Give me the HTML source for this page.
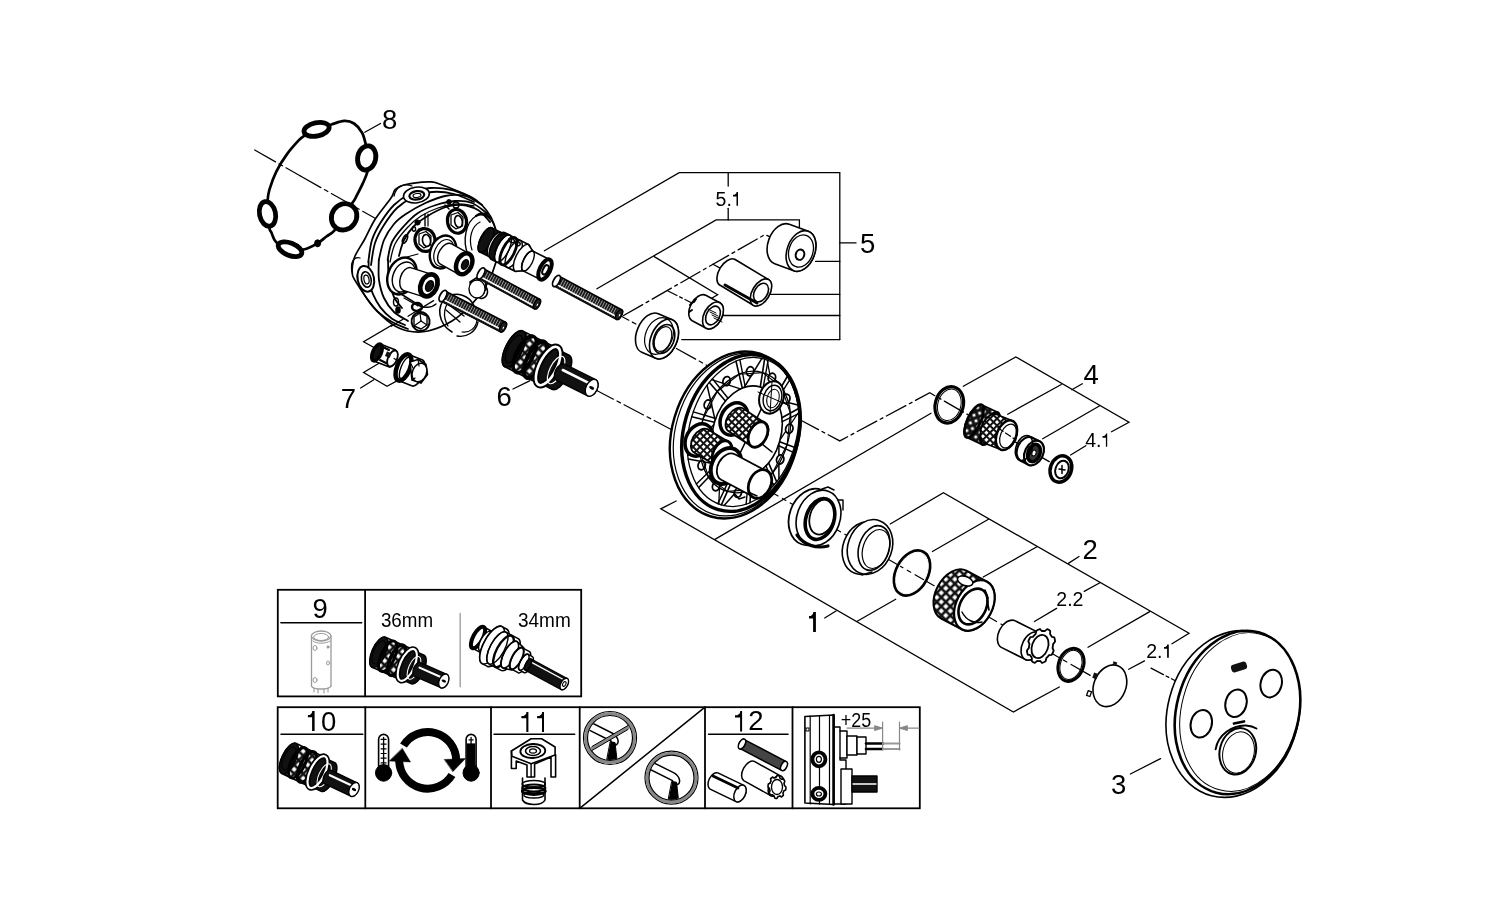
<!DOCTYPE html>
<html><head><meta charset="utf-8"><style>
html,body{margin:0;padding:0;background:#fff;width:1500px;height:916px;overflow:hidden}
svg{display:block;font-family:"Liberation Sans",sans-serif}
text{will-change:transform}
</style></head><body>
<svg width="1500" height="916" viewBox="0 0 1500 916" stroke-linecap="round">
<rect x="277.8" y="589.8" width="303.4" height="106.6" fill="none" stroke="#000" stroke-width="1.8"/>
<line x1="365.1" y1="589.8" x2="365.1" y2="696.4" stroke="#000" stroke-width="1.8" />
<line x1="280.9" y1="622.7" x2="361.7" y2="622.7" stroke="#000" stroke-width="1.5" />
<line x1="460.2" y1="613.5" x2="460.2" y2="686.7" stroke="#aaa" stroke-width="1.6" />
<rect x="277.7" y="707.2" width="642.1" height="101.1" fill="none" stroke="#000" stroke-width="1.8"/>
<line x1="365.3" y1="707.2" x2="365.3" y2="808.3" stroke="#000" stroke-width="1.8" />
<line x1="491.0" y1="707.2" x2="491.0" y2="808.3" stroke="#000" stroke-width="1.8" />
<line x1="579.7" y1="707.2" x2="579.7" y2="808.3" stroke="#000" stroke-width="1.8" />
<line x1="705.0" y1="707.2" x2="705.0" y2="808.3" stroke="#000" stroke-width="1.8" />
<line x1="792.5" y1="707.2" x2="792.5" y2="808.3" stroke="#000" stroke-width="1.8" />
<line x1="579.7" y1="808.3" x2="705.0" y2="707.2" stroke="#000" stroke-width="1.5" />
<line x1="281.0" y1="734.2" x2="362.8" y2="734.2" stroke="#000" stroke-width="1.5" />
<line x1="494.0" y1="734.2" x2="574.7" y2="734.2" stroke="#000" stroke-width="1.5" />
<line x1="708.5" y1="734.3" x2="788.0" y2="734.3" stroke="#000" stroke-width="1.5" />
<line x1="364.8" y1="132.3" x2="380.5" y2="123.5" stroke="#000" stroke-width="1.3" />
<polyline points="544.4,250.7 679.2,172.6 839.8,172.6 839.8,339.6" stroke="#000" stroke-width="1.3" fill="none" />
<line x1="728.2" y1="172.6" x2="728.2" y2="186.0" stroke="#000" stroke-width="1.3" />
<line x1="728.2" y1="208.3" x2="728.2" y2="219.9" stroke="#000" stroke-width="1.3" />
<polyline points="596.9,288.7 716.1,219.9 799.4,219.9 799.4,229.0" stroke="#000" stroke-width="1.3" fill="none" />
<line x1="815.6" y1="261.4" x2="839.8" y2="261.4" stroke="#000" stroke-width="1.3" />
<line x1="770.4" y1="294.3" x2="839.8" y2="294.3" stroke="#000" stroke-width="1.3" />
<line x1="723.0" y1="315.5" x2="839.8" y2="315.5" stroke="#000" stroke-width="1.3" />
<line x1="681.7" y1="339.6" x2="839.8" y2="339.6" stroke="#000" stroke-width="1.3" />
<line x1="839.8" y1="242.9" x2="856.0" y2="242.9" stroke="#000" stroke-width="1.3" />
<polyline points="654.2,256.6 717.6,294.8 710.8,298.7" stroke="#000" stroke-width="1.3" fill="none" />
<polyline points="623.6,315.5 765.0,234.5 773.4,238.3" stroke="#000" stroke-width="1.3" fill="none" stroke-dasharray="22 4 3 4"/>
<line x1="668.0" y1="291.0" x2="690.9" y2="302.5" stroke="#000" stroke-width="1.3" stroke-dasharray="10 3 3 3"/>
<line x1="713.0" y1="264.3" x2="721.5" y2="268.9" stroke="#000" stroke-width="1.3" />
<polyline points="433.6,300.6 363.6,341.8 374.4,347.8" stroke="#000" stroke-width="1.3" fill="none" />
<polyline points="378.6,363.5 363.6,372.5 387.0,386.3 399.7,379.4" stroke="#000" stroke-width="1.3" fill="none" />
<line x1="373.8" y1="379.7" x2="360.6" y2="388.0" stroke="#000" stroke-width="1.3" />
<line x1="513.0" y1="389.0" x2="529.6" y2="380.8" stroke="#000" stroke-width="1.3" />
<polyline points="963.3,386.2 1015.8,357.0 1129.0,422.3 1111.5,431.7" stroke="#000" stroke-width="1.3" fill="none" />
<line x1="1061.3" y1="384.5" x2="1007.7" y2="414.2" stroke="#000" stroke-width="1.3" />
<line x1="1071.8" y1="389.7" x2="1082.3" y2="383.8" stroke="#000" stroke-width="1.3" />
<line x1="1099.3" y1="406.0" x2="1042.7" y2="438.7" stroke="#000" stroke-width="1.3" />
<line x1="1085.8" y1="445.7" x2="1070.6" y2="455.0" stroke="#000" stroke-width="1.3" />
<polyline points="799.0,419.3 839.8,440.9 929.8,392.8 1052.0,463.2" stroke="#000" stroke-width="1.3" fill="none" stroke-dasharray="22 4 3 4"/>
<line x1="714.9" y1="539.4" x2="931.0" y2="413.3" stroke="#000" stroke-width="1.3" />
<polyline points="676.2,501.0 660.8,508.8 1013.4,712.0 1059.3,687.0" stroke="#000" stroke-width="1.3" fill="none" />
<line x1="857.2" y1="621.2" x2="895.7" y2="599.2" stroke="#000" stroke-width="1.3" />
<line x1="824.7" y1="618.0" x2="836.0" y2="611.0" stroke="#000" stroke-width="1.3" />
<polyline points="890.2,524.0 943.4,492.8 1189.0,633.3 1172.0,643.8" stroke="#000" stroke-width="1.3" fill="none" />
<line x1="988.5" y1="519.3" x2="932.4" y2="551.5" stroke="#000" stroke-width="1.3" />
<line x1="1037.0" y1="546.8" x2="983.2" y2="577.0" stroke="#000" stroke-width="1.3" />
<line x1="1068.4" y1="563.4" x2="1079.0" y2="556.5" stroke="#000" stroke-width="1.3" />
<polyline points="1099.9,582.8 1084.2,591.4" stroke="#000" stroke-width="1.3" fill="none" />
<line x1="1056.6" y1="608.4" x2="1034.4" y2="621.5" stroke="#000" stroke-width="1.3" />
<line x1="1149.7" y1="611.6" x2="1088.0" y2="647.2" stroke="#000" stroke-width="1.3" />
<line x1="1144.5" y1="660.9" x2="1128.7" y2="669.3" stroke="#000" stroke-width="1.3" />
<line x1="1151.0" y1="668.2" x2="1182.5" y2="684.5" stroke="#000" stroke-width="1.3" stroke-dasharray="14 3 3 3"/>
<line x1="1130.4" y1="774.0" x2="1160.5" y2="758.6" stroke="#000" stroke-width="1.3" />
<line x1="759.0" y1="485.0" x2="1100.0" y2="681.0" stroke="#000" stroke-width="1.2" stroke-dasharray="22 5 4 5"/>
<line x1="254.7" y1="150.0" x2="300.0" y2="175.8" stroke="#000" stroke-width="1.2" stroke-dasharray="24 4 4 4"/>
<line x1="300.0" y1="175.8" x2="376.0" y2="218.8" stroke="#000" stroke-width="1.2" stroke-dasharray="24 4 4 4"/>
<line x1="593.9" y1="389.0" x2="680.0" y2="434.0" stroke="#000" stroke-width="1.2" stroke-dasharray="22 4 4 4"/>
<line x1="676.4" y1="348.4" x2="717.3" y2="371.2" stroke="#000" stroke-width="1.2" stroke-dasharray="22 4 4 4"/>
<line x1="620.0" y1="315.5" x2="646.0" y2="329.5" stroke="#000" stroke-width="1.2" stroke-dasharray="10 4 4 4"/>
<path d="M331.4,124.5 C336.0,123.1 340.3,121.1 344.1,120.9 C347.9,120.7 351.1,121.6 354.0,123.5 C356.9,125.4 359.9,128.9 361.8,132.3 C363.8,135.7 364.7,139.8 365.7,144.1 C366.7,148.4 367.4,153.6 367.7,158.0 C368.0,162.4 368.5,166.4 367.7,170.6 C366.9,174.8 364.8,179.0 362.8,183.4 C360.8,187.8 357.5,194.1 355.9,197.2 C354.3,200.3 355.0,199.0 353.0,202.1 C351.0,205.2 347.1,211.2 344.0,216.0 C340.9,220.8 337.2,227.2 334.3,230.6 C331.4,234.0 329.2,234.4 326.4,236.5 C323.6,238.6 321.2,241.2 317.6,243.3 C314.0,245.4 309.4,248.2 304.8,249.2 C300.2,250.1 294.8,250.2 290.0,249.0 C285.2,247.8 279.4,245.1 276.3,242.3 C273.2,239.6 272.5,234.8 271.4,232.5 C270.3,230.2 270.1,231.8 269.5,228.6 C268.9,225.3 267.8,217.6 267.5,213.0 C267.2,208.4 267.2,205.0 267.5,201.1 C267.8,197.2 268.0,194.2 269.5,189.3 C271.0,184.4 273.4,177.5 276.3,171.6 C279.2,165.7 283.4,159.1 287.2,153.9 C291.0,148.7 296.0,143.3 298.9,140.2 C301.8,137.1 301.9,137.1 304.8,135.3 C307.8,133.5 312.2,131.2 316.6,129.4 C321.0,127.6 326.8,125.9 331.4,124.5 Z" stroke="#000" stroke-width="2.7" fill="none" stroke-linejoin="round" stroke-linecap="round" />
<ellipse cx="316.6" cy="129.4" rx="12.8" ry="6.6" transform="rotate(-12 316.6 129.4)" stroke="#000" stroke-width="4.8" fill="#fff" />
<ellipse cx="366.7" cy="157.9" rx="9.0" ry="12.2" transform="rotate(12 366.7 157.9)" stroke="#000" stroke-width="4.8" fill="#fff" />
<ellipse cx="344.1" cy="216.8" rx="12.3" ry="13.6" transform="rotate(35 344.1 216.8)" stroke="#000" stroke-width="4.8" fill="#fff" />
<ellipse cx="267.5" cy="213.9" rx="8.0" ry="12.5" transform="rotate(-12 267.5 213.9)" stroke="#000" stroke-width="4.8" fill="#fff" />
<ellipse cx="290.0" cy="249.2" rx="12.5" ry="6.2" transform="rotate(22 290.0 249.2)" stroke="#000" stroke-width="4.8" fill="#fff" />
<ellipse cx="317.6" cy="243.3" rx="3.0" ry="3.5" transform="rotate(0 317.6 243.3)" stroke="#000" stroke-width="1" fill="#000" />
<path d="M355.0,256.0 C357.1,251.5 361.4,245.2 364.8,239.0 C368.2,232.8 370.9,225.8 375.3,219.0 C379.7,212.2 387.6,202.9 391.0,198.0 C394.4,193.1 392.9,191.7 395.4,189.4 C397.9,187.2 400.4,185.8 405.9,184.5 C411.4,183.2 423.4,182.1 428.6,181.9 C433.8,181.7 432.1,181.5 437.3,183.2 C442.5,184.9 453.6,189.2 460.0,192.0 C466.4,194.8 471.5,196.8 476.0,200.0 C480.5,203.2 484.0,207.0 487.0,211.0 C490.0,215.0 492.2,218.8 494.0,224.0 C495.8,229.2 497.7,235.7 498.0,242.0 C498.3,248.3 497.8,255.0 496.0,262.0 C494.2,269.0 491.0,277.0 487.0,284.0 C483.0,291.0 477.8,297.8 472.0,304.0 C466.2,310.2 459.3,316.5 452.0,321.0 C444.7,325.5 435.4,329.3 428.0,331.0 C420.6,332.7 413.8,332.3 407.6,331.0 C401.4,329.7 396.8,327.6 390.9,323.4 C385.0,319.2 377.4,311.6 372.3,305.7 C367.2,299.8 363.2,292.9 360.0,288.0 C356.8,283.1 354.1,279.7 352.8,276.0 C351.6,272.3 352.1,269.3 352.5,266.0 C352.9,262.7 352.9,260.5 355.0,256.0 Z" stroke="#000" stroke-width="1.7" fill="#fff" stroke-linejoin="round" stroke-linecap="round" />
<path d="M368.3,262.0 C368.9,258.3 369.9,246.7 372.0,240.0 C374.1,233.3 377.3,227.8 381.0,222.0 C384.7,216.2 389.2,209.7 394.0,205.0 C398.8,200.3 404.0,196.8 410.0,194.0 C416.0,191.2 423.0,188.7 430.0,188.0 C437.0,187.3 445.3,188.5 452.0,190.0 C458.7,191.5 467.0,195.8 470.0,197.0 " stroke="#000" stroke-width="1.8" fill="none" stroke-linejoin="round" stroke-linecap="round" />
<path d="M371.0,265.0 C371.7,261.3 372.8,249.7 375.0,243.0 C377.2,236.3 380.3,230.8 384.0,225.0 C387.7,219.2 392.3,212.5 397.0,208.0 C401.7,203.5 406.2,200.7 412.0,198.0 C417.8,195.3 425.0,192.7 432.0,192.0 C439.0,191.3 447.0,192.3 454.0,194.0 C461.0,195.7 470.7,200.7 474.0,202.0 " stroke="#000" stroke-width="1.8" fill="none" stroke-linejoin="round" stroke-linecap="round" />
<path d="M378.8,260.0 C379.7,256.7 381.5,246.0 384.0,240.0 C386.5,234.0 390.4,228.3 394.0,224.0 C397.6,219.7 400.7,217.4 405.9,214.0 C411.1,210.6 418.5,206.3 425.0,203.3 C431.5,200.3 438.3,197.2 445.0,196.0 C451.7,194.8 458.8,194.5 465.0,196.0 C471.2,197.5 479.2,203.5 482.0,205.0 " stroke="#000" stroke-width="1.8" fill="none" stroke-linejoin="round" stroke-linecap="round" />
<path d="M387.6,260.0 C388.3,257.0 389.3,247.7 392.0,242.0 C394.7,236.3 399.7,230.8 404.0,226.0 C408.3,221.2 412.7,216.5 418.0,213.0 C423.3,209.5 429.8,207.0 436.0,205.0 C442.2,203.0 449.0,201.3 455.0,201.0 C461.0,200.7 466.5,200.8 472.0,203.0 C477.5,205.2 485.3,212.2 488.0,214.0 " stroke="#000" stroke-width="1.8" fill="none" stroke-linejoin="round" stroke-linecap="round" />
<path d="M390.0,262.0 C390.8,259.0 392.2,249.7 395.0,244.0 C397.8,238.3 402.7,232.7 407.0,228.0 C411.3,223.3 415.8,219.3 421.0,216.0 C426.2,212.7 432.0,210.0 438.0,208.0 C444.0,206.0 451.0,204.3 457.0,204.0 C463.0,203.7 471.2,205.7 474.0,206.0 " stroke="#000" stroke-width="1.3" fill="none" stroke-linejoin="round" stroke-linecap="round" />
<path d="M398.9,256.0 C399.8,253.3 401.5,245.0 404.0,240.0 C406.5,235.0 410.2,229.9 414.0,226.0 C417.8,222.1 421.6,219.6 426.9,216.4 C432.2,213.2 440.1,208.9 446.0,207.0 C451.9,205.1 456.7,204.5 462.0,205.0 C467.3,205.5 473.3,207.2 478.0,210.0 C482.7,212.8 488.0,220.0 490.0,222.0 " stroke="#000" stroke-width="1.8" fill="none" stroke-linejoin="round" stroke-linecap="round" />
<path d="M360.0,288.0 C361.3,290.0 365.0,296.0 368.0,300.0 C371.0,304.0 374.0,308.3 378.0,312.0 C382.0,315.7 387.0,319.2 392.0,322.0 C397.0,324.8 405.3,327.8 408.0,329.0 " stroke="#000" stroke-width="1.8" fill="none" stroke-linejoin="round" stroke-linecap="round" />
<path d="M368.6,262.0 C368.7,265.3 368.2,276.6 369.0,282.0 C369.8,287.4 371.3,290.3 373.2,294.6 C375.1,298.9 377.5,303.6 380.6,307.6 C383.7,311.6 387.9,315.8 392.0,318.7 C396.1,321.6 402.8,323.9 405.0,325.0 " stroke="#000" stroke-width="1.8" fill="none" stroke-linejoin="round" stroke-linecap="round" />
<path d="M378.8,260.0 C378.8,263.3 378.1,273.7 379.0,280.0 C379.9,286.3 381.5,292.7 384.0,298.0 C386.5,303.3 390.0,308.2 394.0,312.0 C398.0,315.8 405.7,319.5 408.0,321.0 " stroke="#000" stroke-width="1.8" fill="none" stroke-linejoin="round" stroke-linecap="round" />
<path d="M388.0,260.0 C388.2,263.3 388.0,273.8 389.0,280.0 C390.0,286.2 391.8,292.3 394.0,297.0 C396.2,301.7 400.7,306.2 402.0,308.0 " stroke="#000" stroke-width="1.8" fill="none" stroke-linejoin="round" stroke-linecap="round" />
<path d="M394,196 C396,186 404,183 412,186" stroke="#000" stroke-width="1.3" fill="none" stroke-linejoin="round" stroke-linecap="round" />
<ellipse cx="416.4" cy="195.0" rx="13.0" ry="7.8" transform="rotate(-8 416.4 195.0)" stroke="#000" stroke-width="1.6" fill="#fff" />
<ellipse cx="416.8" cy="195.3" rx="7.5" ry="4.2" transform="rotate(-8 416.8 195.3)" stroke="#000" stroke-width="2.2" fill="none" />
<ellipse cx="417.0" cy="195.5" rx="4.0" ry="2.0" transform="rotate(-8 417.0 195.5)" stroke="#000" stroke-width="1.2" fill="none" />
<path d="M352,272 C350,262 354,256 360,258" stroke="#000" stroke-width="1.3" fill="none" stroke-linejoin="round" stroke-linecap="round" />
<ellipse cx="365.8" cy="278.8" rx="8.2" ry="13.0" transform="rotate(-12 365.8 278.8)" stroke="#000" stroke-width="2" fill="#fff" />
<ellipse cx="366.3" cy="279.5" rx="4.8" ry="7.8" transform="rotate(-12 366.3 279.5)" stroke="#000" stroke-width="1.6" fill="none" />
<ellipse cx="366.5" cy="279.5" rx="2.5" ry="4.5" transform="rotate(-12 366.5 279.5)" stroke="#000" stroke-width="1.2" fill="none" />
<ellipse cx="417.5" cy="222.5" rx="2.6" ry="2.6" transform="rotate(0 417.5 222.5)" stroke="#000" stroke-width="1" fill="#000" />
<ellipse cx="414.0" cy="229.0" rx="1.6" ry="2.2" transform="rotate(0 414.0 229.0)" stroke="#000" stroke-width="1.4" fill="none" />
<ellipse cx="405.0" cy="239.0" rx="2.0" ry="4.5" transform="rotate(25 405.0 239.0)" stroke="#000" stroke-width="1.5" fill="none" />
<ellipse cx="449.0" cy="202.0" rx="2.4" ry="2.4" transform="rotate(0 449.0 202.0)" stroke="#000" stroke-width="1" fill="#000" />
<line x1="445.0" y1="205.0" x2="449.0" y2="209.0" stroke="#000" stroke-width="1.5" />
<ellipse cx="456.0" cy="205.0" rx="3.0" ry="3.0" transform="rotate(0 456.0 205.0)" stroke="#000" stroke-width="1.4" fill="none" />
<ellipse cx="396.0" cy="302.0" rx="2.5" ry="4.0" transform="rotate(0 396.0 302.0)" stroke="#000" stroke-width="1.4" fill="none" />
<ellipse cx="398.0" cy="310.0" rx="2.0" ry="3.0" transform="rotate(0 398.0 310.0)" stroke="#000" stroke-width="1.6" fill="#000" />
<line x1="419.0" y1="229.0" x2="432.0" y2="231.0" stroke="#000" stroke-width="1.4" />
<line x1="425.0" y1="214.0" x2="425.0" y2="226.0" stroke="#000" stroke-width="1.4" />
<line x1="428.0" y1="214.0" x2="428.0" y2="226.0" stroke="#000" stroke-width="1.2" />
<line x1="430.0" y1="240.0" x2="445.0" y2="236.0" stroke="#000" stroke-width="1.2" />
<line x1="407.0" y1="257.0" x2="418.0" y2="254.0" stroke="#000" stroke-width="1.2" />
<ellipse cx="425.0" cy="240.0" rx="10.0" ry="11.5" transform="rotate(-10 425.0 240.0)" stroke="#000" stroke-width="3.2" fill="#fff" />
<polygon points="419.0,234.0 426.0,231.5 431.0,236.0 430.5,245.0 424.0,248.0 419.0,244.0" stroke="#000" stroke-width="1.3" fill="#fff" stroke-linejoin="round" />
<ellipse cx="426.5" cy="240.5" rx="4.0" ry="6.0" transform="rotate(-10 426.5 240.5)" stroke="#000" stroke-width="1.6" fill="none" />
<ellipse cx="457.0" cy="221.3" rx="9.5" ry="12.0" transform="rotate(-10 457.0 221.3)" stroke="#000" stroke-width="3.2" fill="#fff" />
<polygon points="451.0,215.0 458.0,212.5 463.0,217.0 462.5,226.0 456.0,229.0 451.0,225.0" stroke="#000" stroke-width="1.3" fill="#fff" stroke-linejoin="round" />
<ellipse cx="458.5" cy="221.5" rx="3.8" ry="6.0" transform="rotate(-10 458.5 221.5)" stroke="#000" stroke-width="1.6" fill="none" />
<path d="M468,255 C462,240 466,222 476,216 C484,212 492,218 495,228" stroke="#000" stroke-width="1.4" fill="none" stroke-linejoin="round" stroke-linecap="round" />
<path d="M472,250 C468,238 472,226 480,222" stroke="#000" stroke-width="1.2" fill="none" stroke-linejoin="round" stroke-linecap="round" />
<path d="M476,216 C480,212 486,213 490,218" stroke="#000" stroke-width="2.2" fill="none" stroke-linejoin="round" stroke-linecap="round" />
<ellipse cx="443.0" cy="252.0" rx="12.5" ry="17.0" transform="rotate(22 443.0 252.0)" stroke="#000" stroke-width="2.4" fill="#fff" />
<ellipse cx="444.0" cy="253.0" rx="9.5" ry="14.0" transform="rotate(22 444.0 253.0)" stroke="#000" stroke-width="1.2" fill="none" />
<path d="M440.4,264.1 L458.4,274.1 A7.1,11.5 29.1 0 0 469.6,253.9 L451.6,243.9 A7.1,11.5 29.1 0 0 440.4,264.1 Z" stroke="#000" stroke-width="1.4" fill="#fff" stroke-linejoin="round" stroke-linecap="round" />
<ellipse cx="464.2" cy="263.8" rx="7.5" ry="11.0" transform="rotate(25 464.2 263.8)" stroke="#000" stroke-width="4.5" fill="#fff" />
<ellipse cx="465.0" cy="264.5" rx="3.0" ry="5.0" transform="rotate(25 465.0 264.5)" stroke="#000" stroke-width="1.6" fill="#111" />
<ellipse cx="402.0" cy="276.0" rx="14.0" ry="19.0" transform="rotate(22 402.0 276.0)" stroke="#000" stroke-width="2.4" fill="#fff" />
<ellipse cx="404.0" cy="277.0" rx="11.0" ry="15.5" transform="rotate(22 404.0 277.0)" stroke="#000" stroke-width="1.4" fill="none" />
<path d="M403.4,290.4 L425.4,297.4 A7.4,12.0 17.7 0 0 432.6,274.6 L410.6,267.6 A7.4,12.0 17.7 0 0 403.4,290.4 Z" stroke="#000" stroke-width="1.4" fill="#fff" stroke-linejoin="round" stroke-linecap="round" />
<ellipse cx="428.9" cy="285.3" rx="8.0" ry="11.5" transform="rotate(25 428.9 285.3)" stroke="#000" stroke-width="4.8" fill="#fff" />
<ellipse cx="429.5" cy="286.0" rx="3.5" ry="5.5" transform="rotate(25 429.5 286.0)" stroke="#000" stroke-width="1.6" fill="#111" />
<path d="M398,292 L420,306 C424,308 432,308 436,304" stroke="#000" stroke-width="1.5" fill="none" stroke-linejoin="round" stroke-linecap="round" />
<path d="M404,298 L418,306" stroke="#000" stroke-width="1.2" fill="none" stroke-linejoin="round" stroke-linecap="round" />
<ellipse cx="417.0" cy="307.0" rx="5.0" ry="4.0" transform="rotate(0 417.0 307.0)" stroke="#000" stroke-width="2.5" fill="none" />
<ellipse cx="420.6" cy="321.5" rx="9.0" ry="9.5" transform="rotate(-10 420.6 321.5)" stroke="#000" stroke-width="2" fill="#fff" />
<polygon points="414.0,317.0 420.0,313.0 427.0,316.0 427.0,325.0 421.0,329.0 414.0,326.0" stroke="#000" stroke-width="1.4" fill="#fff" stroke-linejoin="round" />
<line x1="420.0" y1="313.0" x2="421.0" y2="321.0" stroke="#000" stroke-width="1.2" />
<line x1="421.0" y1="321.0" x2="427.0" y2="325.0" stroke="#000" stroke-width="1.2" />
<line x1="421.0" y1="321.0" x2="414.0" y2="326.0" stroke="#000" stroke-width="1.2" />
<path d="M452,332 C438,324 436,306 446,298 C456,290 470,296 474,306" stroke="#000" stroke-width="1.6" fill="none" stroke-linejoin="round" stroke-linecap="round" />
<path d="M448,326 C442,316 444,304 452,300" stroke="#000" stroke-width="1.3" fill="none" stroke-linejoin="round" stroke-linecap="round" />
<path d="M457,336 C466,338 476,332 478,322" stroke="#000" stroke-width="1.4" fill="none" stroke-linejoin="round" stroke-linecap="round" />
<path d="M462,332 C470,333 476,328 477,320" stroke="#000" stroke-width="1.2" fill="none" stroke-linejoin="round" stroke-linecap="round" />
<line x1="446.0" y1="310.0" x2="460.0" y2="322.0" stroke="#000" stroke-width="1.3" />
<line x1="449.0" y1="305.0" x2="464.0" y2="316.0" stroke="#000" stroke-width="1.3" />
<polygon points="470.0,282.0 477.0,277.5 485.0,280.0 486.5,289.0 480.0,295.0 471.5,292.0" stroke="#000" stroke-width="1.6" fill="#fff" stroke-linejoin="round" />
<line x1="477.0" y1="277.5" x2="478.0" y2="285.0" stroke="#000" stroke-width="1.2" />
<line x1="478.0" y1="285.0" x2="486.5" y2="289.0" stroke="#000" stroke-width="1.2" />
<line x1="478.0" y1="285.0" x2="471.5" y2="292.0" stroke="#000" stroke-width="1.2" />
<ellipse cx="482.0" cy="292.0" rx="5.5" ry="6.5" transform="rotate(10 482.0 292.0)" stroke="#000" stroke-width="1.6" fill="none" />
<line x1="391.3" y1="326.2" x2="403.0" y2="319.2" stroke="#000" stroke-width="1.3" />
<line x1="408.0" y1="316.2" x2="433.6" y2="300.6" stroke="#000" stroke-width="1.3" />
<path d="M480.0,252.1 L488.9,256.5 A5.7,13.5 26.6 0 0 501.0,232.4 L492.0,227.9 A5.7,13.5 26.6 0 0 480.0,252.1 Z" stroke="#000" stroke-width="1.6" fill="#111" stroke-linejoin="round" stroke-linecap="round" />
<ellipse cx="486.0" cy="240.0" rx="5.5" ry="13.5" transform="rotate(26.6 486.0 240.0)" stroke="#000" stroke-width="1.6" fill="#111" />
<path d="M488.9,256.5 L491.6,257.9 A5.7,13.5 26.6 0 0 503.7,233.7 L501.0,232.4 A5.7,13.5 26.6 0 0 488.9,256.5 Z" stroke="#000" stroke-width="1.4" fill="#fff" stroke-linejoin="round" stroke-linecap="round" />
<path d="M490.9,259.2 L496.3,261.9 A6.3,15.0 26.6 0 0 509.7,235.1 L504.3,232.4 A6.3,15.0 26.6 0 0 490.9,259.2 Z" stroke="#000" stroke-width="1.6" fill="#111" stroke-linejoin="round" stroke-linecap="round" />
<path d="M496.3,261.9 L515.1,271.3 A6.3,15.0 26.6 0 0 528.5,244.5 L509.7,235.1 A6.3,15.0 26.6 0 0 496.3,261.9 Z" stroke="#000" stroke-width="1.6" fill="#fff" stroke-linejoin="round" stroke-linecap="round" />
<ellipse cx="503.0" cy="248.5" rx="6.0" ry="15.0" transform="rotate(26.6 503.0 248.5)" stroke="#000" stroke-width="1.4" fill="none" />
<ellipse cx="508.4" cy="251.2" rx="6.0" ry="15.0" transform="rotate(26.6 508.4 251.2)" stroke="#000" stroke-width="2.8" fill="none" />
<ellipse cx="513.7" cy="253.9" rx="6.0" ry="15.0" transform="rotate(26.6 513.7 253.9)" stroke="#000" stroke-width="1.4" fill="none" />
<ellipse cx="511.5" cy="240.4" rx="3.0" ry="2.0" transform="rotate(26.6 511.5 240.4)" stroke="#000" stroke-width="1.5" fill="none" />
<ellipse cx="517.8" cy="243.6" rx="2.5" ry="1.8" transform="rotate(26.6 517.8 243.6)" stroke="#000" stroke-width="1.5" fill="none" />
<path d="M515.1,271.3 L523.1,270.9 A4.6,11.0 26.6 0 0 533.0,251.2 L528.5,244.5 A6.3,15.0 26.6 0 0 515.1,271.3 Z" stroke="#000" stroke-width="1.6" fill="#fff" stroke-linejoin="round" stroke-linecap="round" />
<path d="M523.1,270.9 L540.1,279.4 A4.6,11.0 26.6 0 0 550.0,259.7 L533.0,251.2 A4.6,11.0 26.6 0 0 523.1,270.9 Z" stroke="#000" stroke-width="1.6" fill="#fff" stroke-linejoin="round" stroke-linecap="round" />
<ellipse cx="528.0" cy="261.0" rx="4.5" ry="11.0" transform="rotate(26.6 528.0 261.0)" stroke="#000" stroke-width="1.4" fill="none" />
<ellipse cx="545.0" cy="269.5" rx="5.2" ry="11.0" transform="rotate(26.6 545.0 269.5)" stroke="#000" stroke-width="4" fill="#fff" />
<ellipse cx="545.5" cy="269.8" rx="2.5" ry="5.0" transform="rotate(26.6 545.5 269.8)" stroke="#000" stroke-width="2" fill="none" />
<path d="M500,236 C504,232 510,234 512,238" stroke="#000" stroke-width="1.2" fill="none" stroke-linejoin="round" stroke-linecap="round" />
<path d="M478.4,278.2 L534.4,308.7 A2.4,5.4 28.6 0 0 539.6,299.3 L483.6,268.8 A2.4,5.4 28.6 0 0 478.4,278.2 Z" stroke="#000" stroke-width="1.6" fill="url(#spr)" stroke-linejoin="round" stroke-linecap="round" />
<line x1="481.3" y1="277.1" x2="533.8" y2="305.7" stroke="#fff" stroke-width="1.6" />
<line x1="478.5" y1="278.0" x2="534.5" y2="308.5" stroke="#111" stroke-width="1.4" />
<ellipse cx="537.0" cy="304.0" rx="2.7" ry="5.4" transform="rotate(28.57460499009913 537.0 304.0)" stroke="#000" stroke-width="1.6" fill="#222" />
<ellipse cx="537.5" cy="304.8" rx="1.1" ry="1.9" transform="rotate(28.57460499009913 537.5 304.8)" stroke="#000" stroke-width="0.8" fill="#fff" />
<ellipse cx="481.0" cy="273.5" rx="3.0" ry="6.2" transform="rotate(28.57460499009913 481.0 273.5)" stroke="#000" stroke-width="1.8" fill="#fff" />
<path d="M440.5,300.8 L500.5,331.8 A2.4,5.4 27.3 0 0 505.5,322.2 L445.5,291.2 A2.4,5.4 27.3 0 0 440.5,300.8 Z" stroke="#000" stroke-width="1.6" fill="url(#spr)" stroke-linejoin="round" stroke-linecap="round" />
<line x1="443.4" y1="299.6" x2="499.9" y2="328.7" stroke="#fff" stroke-width="1.6" />
<line x1="440.6" y1="300.6" x2="500.6" y2="331.6" stroke="#111" stroke-width="1.4" />
<ellipse cx="503.0" cy="327.0" rx="2.7" ry="5.4" transform="rotate(27.32389130134654 503.0 327.0)" stroke="#000" stroke-width="1.6" fill="#222" />
<ellipse cx="503.5" cy="327.8" rx="1.1" ry="1.9" transform="rotate(27.32389130134654 503.5 327.8)" stroke="#000" stroke-width="0.8" fill="#fff" />
<ellipse cx="443.0" cy="296.0" rx="3.0" ry="6.2" transform="rotate(27.32389130134654 443.0 296.0)" stroke="#000" stroke-width="1.8" fill="#fff" />
<path d="M553.9,285.8 L616.4,319.3 A2.4,5.4 28.2 0 0 621.6,309.7 L559.1,276.2 A2.4,5.4 28.2 0 0 553.9,285.8 Z" stroke="#000" stroke-width="1.6" fill="url(#spr)" stroke-linejoin="round" stroke-linecap="round" />
<line x1="556.9" y1="284.6" x2="615.8" y2="316.2" stroke="#fff" stroke-width="1.6" />
<line x1="554.1" y1="285.5" x2="616.6" y2="319.0" stroke="#111" stroke-width="1.4" />
<ellipse cx="619.0" cy="314.5" rx="2.7" ry="5.4" transform="rotate(28.19130837379314 619.0 314.5)" stroke="#000" stroke-width="1.6" fill="#222" />
<ellipse cx="619.5" cy="315.3" rx="1.1" ry="1.9" transform="rotate(28.19130837379314 619.5 315.3)" stroke="#000" stroke-width="0.8" fill="#fff" />
<ellipse cx="556.5" cy="281.0" rx="3.0" ry="6.2" transform="rotate(28.19130837379314 556.5 281.0)" stroke="#000" stroke-width="1.8" fill="#fff" />
<ellipse cx="477.0" cy="289.0" rx="8.0" ry="9.0" transform="rotate(0 477.0 289.0)" stroke="#000" stroke-width="1.4" fill="#fff" />
<defs>
<pattern id="knurl" width="6" height="6" patternUnits="userSpaceOnUse" patternTransform="rotate(45)">
<rect width="6" height="6" fill="#111"/><rect x="1.6" y="1.6" width="2.8" height="2.8" fill="#fff"/></pattern>
<pattern id="xh" width="5" height="5" patternUnits="userSpaceOnUse" patternTransform="rotate(45)">
<rect width="5" height="5" fill="#fff"/><rect width="5" height="1.3" fill="#111"/><rect width="1.3" height="5" fill="#111"/></pattern>
<pattern id="kn2" width="6.4" height="6.4" patternUnits="userSpaceOnUse" patternTransform="rotate(45)">
<rect width="6.4" height="6.4" fill="#111"/><rect x="1.3" y="1.3" width="3.8" height="3.8" fill="#fff"/></pattern>
<pattern id="xh2" width="5" height="5" patternUnits="userSpaceOnUse" patternTransform="rotate(45)">
<rect width="5" height="5" fill="#fff"/><rect width="5" height="2" fill="#111"/><rect width="2" height="5" fill="#111"/></pattern>
<pattern id="spr" width="2.6" height="10" patternUnits="userSpaceOnUse" patternTransform="rotate(28)">
<rect width="2.6" height="10" fill="#fff"/><rect width="2.1" height="10" fill="#1a1a1a"/></pattern>
</defs>
<path d="M505.0,366.9 L537.3,383.0 A8.4,20.0 26.5 0 0 555.2,347.2 L523.0,331.1 A8.4,20.0 26.5 0 0 505.0,366.9 Z" stroke="#000" stroke-width="1.6" fill="url(#kn2)" stroke-linejoin="round" stroke-linecap="round" />
<ellipse cx="514.0" cy="349.0" rx="8.4" ry="20.0" transform="rotate(26.53554768869025 514.0 349.0)" stroke="#000" stroke-width="1.6027477141470698" fill="#111" />
<ellipse cx="514.0" cy="349.0" rx="6.3" ry="15.0" transform="rotate(26.53554768869025 514.0 349.0)" stroke="#000" stroke-width="1.2020607856103023" fill="#111" />
<ellipse cx="524.8" cy="354.4" rx="8.4" ry="20.0" transform="rotate(26.53554768869025 524.8 354.4)" stroke="#000" stroke-width="3.506010624696715" fill="none" />
<ellipse cx="535.5" cy="359.7" rx="8.4" ry="20.0" transform="rotate(26.53554768869025 535.5 359.7)" stroke="#000" stroke-width="4.006869285367674" fill="none" />
<path d="M537.8,382.1 L552.1,389.3 A8.0,19.0 26.5 0 0 569.1,355.2 L554.8,348.1 A8.0,19.0 26.5 0 0 537.8,382.1 Z" stroke="#000" stroke-width="1.6" fill="#111" stroke-linejoin="round" stroke-linecap="round" />
<ellipse cx="548.1" cy="366.0" rx="8.8" ry="21.0" transform="rotate(26.53554768869025 548.1 366.0)" stroke="#000" stroke-width="6.5111625887224704" fill="none" />
<ellipse cx="548.1" cy="366.0" rx="8.8" ry="21.0" transform="rotate(26.53554768869025 548.1 366.0)" stroke="#fff" stroke-width="2.6044650354889884" fill="none" />
<ellipse cx="556.1" cy="370.0" rx="6.3" ry="15.0" transform="rotate(26.53554768869025 556.1 370.0)" stroke="#fff" stroke-width="1.2020607856103023" fill="none" />
<path d="M556.6,380.3 L587.7,395.9 A5.6,9.0 26.5 0 0 595.7,379.7 L564.6,364.2 A5.6,9.0 26.5 0 0 556.6,380.3 Z" stroke="#000" stroke-width="1.4" fill="#111" stroke-linejoin="round" stroke-linecap="round" />
<line x1="562.8" y1="370.0" x2="591.5" y2="384.4" stroke="#fff" stroke-width="2.6044650354889884" />
<ellipse cx="591.7" cy="387.8" rx="5.6" ry="9.0" transform="rotate(26.53554768869025 591.7 387.8)" stroke="#000" stroke-width="1.4" fill="#fff" />
<ellipse cx="591.7" cy="387.8" rx="2.2" ry="1.0" transform="rotate(26.53554768869025 591.7 387.8)" stroke="#000" stroke-width="1.0" fill="#000" />
<path d="M373.8,360.9 L389.3,366.9 A4.0,9.0 21.2 0 0 395.7,350.1 L380.2,344.1 A4.0,9.0 21.2 0 0 373.8,360.9 Z" stroke="#000" stroke-width="1.6" fill="#fff" stroke-linejoin="round" stroke-linecap="round" />
<ellipse cx="377.0" cy="352.5" rx="4.2" ry="9.0" transform="rotate(24 377.0 352.5)" stroke="#000" stroke-width="3.5" fill="#111" />
<path d="M381,346 L389,350 M380,360 L388,364" stroke="#000" stroke-width="2" fill="none" stroke-linejoin="round" stroke-linecap="round" />
<ellipse cx="392.5" cy="358.5" rx="4.5" ry="8.5" transform="rotate(24 392.5 358.5)" stroke="#000" stroke-width="1.8" fill="#fff" />
<rect x="386" y="352" width="5" height="5" fill="#111" transform="rotate(24 388 354)"/>
<line x1="394.0" y1="358.5" x2="402.0" y2="363.0" stroke="#000" stroke-width="1.2" stroke-dasharray="4 2"/>
<path d="M398.4,380.5 L412.4,386.0 A6.3,14.0 21.4 0 0 422.6,360.0 L408.6,354.5 A6.3,14.0 21.4 0 0 398.4,380.5 Z" stroke="#000" stroke-width="1.6" fill="#fff" stroke-linejoin="round" stroke-linecap="round" />
<ellipse cx="403.5" cy="367.5" rx="6.5" ry="14.0" transform="rotate(22 403.5 367.5)" stroke="#000" stroke-width="4.5" fill="#fff" />
<ellipse cx="405.0" cy="368.0" rx="4.0" ry="11.5" transform="rotate(22 405.0 368.0)" stroke="#000" stroke-width="1.4" fill="none" />
<polygon points="410.0,362.0 418.0,359.5 426.0,364.5 427.5,374.5 421.0,383.0 412.0,380.0" stroke="#000" stroke-width="1.6" fill="#fff" stroke-linejoin="round" />
<ellipse cx="419.5" cy="372.5" rx="7.0" ry="9.5" transform="rotate(22 419.5 372.5)" stroke="#000" stroke-width="1.4" fill="#fff" />
<line x1="418.0" y1="359.5" x2="419.0" y2="366.0" stroke="#000" stroke-width="1.2" />
<line x1="410.0" y1="362.0" x2="413.0" y2="368.0" stroke="#000" stroke-width="1.2" />
<line x1="412.0" y1="380.0" x2="415.0" y2="378.0" stroke="#000" stroke-width="1.2" />
<line x1="421.0" y1="383.0" x2="421.0" y2="381.0" stroke="#000" stroke-width="1.2" />
<path d="M641.7,352.3 L655.7,358.3 A13.0,21.0 23.2 0 0 672.3,319.7 L658.3,313.7 A13.0,21.0 23.2 0 0 641.7,352.3 Z" stroke="#000" stroke-width="1.6" fill="#fff" stroke-linejoin="round" stroke-linecap="round" />
<ellipse cx="664.0" cy="339.0" rx="13.0" ry="21.0" transform="rotate(23.19859051364819 664.0 339.0)" stroke="#000" stroke-width="1.6" fill="#fff" />
<ellipse cx="664.0" cy="339.0" rx="10.0" ry="15.0" transform="rotate(22 664.0 339.0)" stroke="#000" stroke-width="1.6" fill="none" />
<ellipse cx="663.0" cy="339.0" rx="8.0" ry="13.0" transform="rotate(22 663.0 339.0)" stroke="#000" stroke-width="1.2" fill="none" />
<ellipse cx="659.0" cy="336.0" rx="13.5" ry="19.0" transform="rotate(22 659.0 336.0)" stroke="#000" stroke-width="1.2" fill="none" />
<path d="M692.2,320.8 L706.2,328.3 A9.0,14.5 28.2 0 0 719.8,302.7 L705.8,295.2 A9.0,14.5 28.2 0 0 692.2,320.8 Z" stroke="#000" stroke-width="1.6" fill="#fff" stroke-linejoin="round" stroke-linecap="round" />
<ellipse cx="713.0" cy="315.5" rx="9.0" ry="14.5" transform="rotate(28.178590109959174 713.0 315.5)" stroke="#000" stroke-width="1.6" fill="#fff" />
<ellipse cx="713.0" cy="315.5" rx="6.5" ry="10.0" transform="rotate(28 713.0 315.5)" stroke="#000" stroke-width="1.6" fill="none" />
<line x1="708.0" y1="309.0" x2="716.0" y2="313.0" stroke="#000" stroke-width="1" />
<line x1="710.0" y1="312.0" x2="718.0" y2="316.0" stroke="#000" stroke-width="1" />
<line x1="712.0" y1="315.0" x2="720.0" y2="319.0" stroke="#000" stroke-width="1" />
<line x1="714.0" y1="318.0" x2="722.0" y2="322.0" stroke="#000" stroke-width="1" />
<path d="M690,305 l3,-3 M692,310 l-3,2 M694,302 l2,-3" stroke="#000" stroke-width="2" fill="none" stroke-linejoin="round" stroke-linecap="round" />
<path d="M719.3,284.8 L753.3,305.3 A8.7,15.0 31.1 0 0 768.7,279.7 L734.7,259.2 A8.7,15.0 31.1 0 0 719.3,284.8 Z" stroke="#000" stroke-width="1.6" fill="#fff" stroke-linejoin="round" stroke-linecap="round" />
<ellipse cx="761.0" cy="292.5" rx="8.7" ry="15.0" transform="rotate(31.08750532347998 761.0 292.5)" stroke="#000" stroke-width="1.6" fill="#fff" />
<ellipse cx="761.0" cy="292.5" rx="6.5" ry="10.0" transform="rotate(30 761.0 292.5)" stroke="#000" stroke-width="1.6" fill="none" />
<line x1="725.0" y1="285.0" x2="757.0" y2="303.0" stroke="#000" stroke-width="3" />
<path d="M774.7,263.7 L793.7,270.7 A13.9,21.0 20.2 0 0 808.3,231.3 L789.3,224.3 A13.9,21.0 20.2 0 0 774.7,263.7 Z" stroke="#000" stroke-width="1.6" fill="#fff" stroke-linejoin="round" stroke-linecap="round" />
<ellipse cx="801.0" cy="251.0" rx="13.9" ry="21.0" transform="rotate(20.224859431168078 801.0 251.0)" stroke="#000" stroke-width="1.6" fill="#fff" />
<ellipse cx="801.0" cy="251.0" rx="12.0" ry="16.5" transform="rotate(18 801.0 251.0)" stroke="#000" stroke-width="1.3" fill="none" />
<ellipse cx="800.0" cy="254.7" rx="4.2" ry="5.2" transform="rotate(18 800.0 254.7)" stroke="#000" stroke-width="2" fill="none" />
<ellipse cx="735.0" cy="435.0" rx="63.0" ry="85.0" transform="rotate(16.5 735.0 435.0)" stroke="#000" stroke-width="2.4" fill="#fff" />
<ellipse cx="736.5" cy="434.5" rx="61.0" ry="83.0" transform="rotate(16.5 736.5 434.5)" stroke="#000" stroke-width="1.2" fill="none" />
<ellipse cx="741.0" cy="433.0" rx="57.0" ry="80.0" transform="rotate(16.5 741.0 433.0)" stroke="#000" stroke-width="3.4" fill="none" />
<ellipse cx="743.0" cy="432.0" rx="53.5" ry="76.0" transform="rotate(16.5 743.0 432.0)" stroke="#000" stroke-width="1.3" fill="none" />
<ellipse cx="747.0" cy="432.0" rx="34.0" ry="47.0" transform="rotate(16.5 747.0 432.0)" stroke="#000" stroke-width="1.6" fill="none" />
<line x1="779.6" y1="441.7" x2="794.3" y2="447.2" stroke="#000" stroke-width="1.6" />
<line x1="778.3" y1="445.5" x2="792.7" y2="452.2" stroke="#000" stroke-width="1.4" />
<line x1="768.6" y1="462.9" x2="776.6" y2="481.6" stroke="#000" stroke-width="1.6" />
<line x1="766.0" y1="465.8" x2="773.5" y2="485.3" stroke="#000" stroke-width="1.4" />
<line x1="751.7" y1="475.9" x2="750.0" y2="502.7" stroke="#000" stroke-width="1.6" />
<line x1="748.7" y1="476.9" x2="746.1" y2="504.2" stroke="#000" stroke-width="1.4" />
<line x1="733.7" y1="477.1" x2="721.4" y2="504.9" stroke="#000" stroke-width="1.6" />
<line x1="730.9" y1="476.1" x2="717.9" y2="503.6" stroke="#000" stroke-width="1.4" />
<line x1="719.1" y1="466.2" x2="698.7" y2="487.5" stroke="#000" stroke-width="1.6" />
<line x1="717.4" y1="463.4" x2="696.4" y2="483.9" stroke="#000" stroke-width="1.4" />
<line x1="712.1" y1="446.2" x2="687.8" y2="455.3" stroke="#000" stroke-width="1.6" />
<line x1="711.8" y1="442.3" x2="687.4" y2="450.3" stroke="#000" stroke-width="1.4" />
<line x1="714.4" y1="422.3" x2="691.7" y2="416.8" stroke="#000" stroke-width="1.6" />
<line x1="715.7" y1="418.5" x2="693.3" y2="411.8" stroke="#000" stroke-width="1.4" />
<line x1="725.4" y1="401.1" x2="709.4" y2="382.4" stroke="#000" stroke-width="1.6" />
<line x1="728.0" y1="398.2" x2="712.5" y2="378.7" stroke="#000" stroke-width="1.4" />
<line x1="742.3" y1="388.1" x2="736.0" y2="361.3" stroke="#000" stroke-width="1.6" />
<line x1="745.3" y1="387.1" x2="739.9" y2="359.8" stroke="#000" stroke-width="1.4" />
<line x1="760.3" y1="386.9" x2="764.6" y2="359.1" stroke="#000" stroke-width="1.6" />
<line x1="763.1" y1="387.9" x2="768.1" y2="360.4" stroke="#000" stroke-width="1.4" />
<line x1="774.9" y1="397.8" x2="787.3" y2="376.5" stroke="#000" stroke-width="1.6" />
<line x1="776.6" y1="400.6" x2="789.6" y2="380.1" stroke="#000" stroke-width="1.4" />
<line x1="781.9" y1="417.8" x2="798.2" y2="408.7" stroke="#000" stroke-width="1.6" />
<line x1="782.2" y1="421.7" x2="798.6" y2="413.7" stroke="#000" stroke-width="1.4" />
<line x1="778.9" y1="444.0" x2="778.9" y2="478.6" stroke="#000" stroke-width="1.5" />
<line x1="749.9" y1="476.5" x2="724.1" y2="505.6" stroke="#000" stroke-width="1.5" />
<line x1="718.0" y1="464.5" x2="688.2" y2="458.9" stroke="#000" stroke-width="1.5" />
<line x1="715.1" y1="420.0" x2="707.1" y2="385.4" stroke="#000" stroke-width="1.5" />
<line x1="744.1" y1="387.5" x2="761.9" y2="358.4" stroke="#000" stroke-width="1.5" />
<line x1="776.0" y1="399.5" x2="797.8" y2="405.1" stroke="#000" stroke-width="1.5" />
<line x1="753.6" y1="475.1" x2="774.3" y2="484.4" stroke="#000" stroke-width="1.3" />
<line x1="720.3" y1="467.8" x2="718.8" y2="504.0" stroke="#000" stroke-width="1.3" />
<line x1="713.7" y1="424.7" x2="687.5" y2="451.5" stroke="#000" stroke-width="1.3" />
<line x1="740.4" y1="388.9" x2="711.7" y2="379.6" stroke="#000" stroke-width="1.3" />
<line x1="773.7" y1="396.2" x2="767.2" y2="360.0" stroke="#000" stroke-width="1.3" />
<line x1="780.3" y1="439.3" x2="798.5" y2="412.5" stroke="#000" stroke-width="1.3" />
<ellipse cx="780.2" cy="459.5" rx="3.6" ry="4.6" transform="rotate(16.5 780.2 459.5)" stroke="#000" stroke-width="1.8" fill="#fff" />
<ellipse cx="761.4" cy="482.9" rx="3.6" ry="4.6" transform="rotate(16.5 761.4 482.9)" stroke="#000" stroke-width="1.8" fill="#fff" />
<ellipse cx="737.9" cy="492.7" rx="3.6" ry="4.6" transform="rotate(16.5 737.9 492.7)" stroke="#000" stroke-width="1.8" fill="#fff" />
<ellipse cx="716.1" cy="486.2" rx="3.6" ry="4.6" transform="rotate(16.5 716.1 486.2)" stroke="#000" stroke-width="1.8" fill="#fff" />
<ellipse cx="701.7" cy="465.2" rx="3.6" ry="4.6" transform="rotate(16.5 701.7 465.2)" stroke="#000" stroke-width="1.8" fill="#fff" />
<ellipse cx="698.7" cy="435.3" rx="3.6" ry="4.6" transform="rotate(16.5 698.7 435.3)" stroke="#000" stroke-width="1.8" fill="#fff" />
<ellipse cx="707.8" cy="404.5" rx="3.6" ry="4.6" transform="rotate(16.5 707.8 404.5)" stroke="#000" stroke-width="1.8" fill="#fff" />
<ellipse cx="726.6" cy="381.1" rx="3.6" ry="4.6" transform="rotate(16.5 726.6 381.1)" stroke="#000" stroke-width="1.8" fill="#fff" />
<ellipse cx="750.1" cy="371.3" rx="3.6" ry="4.6" transform="rotate(16.5 750.1 371.3)" stroke="#000" stroke-width="1.8" fill="#fff" />
<ellipse cx="771.9" cy="377.8" rx="3.6" ry="4.6" transform="rotate(16.5 771.9 377.8)" stroke="#000" stroke-width="1.8" fill="#fff" />
<ellipse cx="786.3" cy="398.8" rx="3.6" ry="4.6" transform="rotate(16.5 786.3 398.8)" stroke="#000" stroke-width="1.8" fill="#fff" />
<ellipse cx="789.3" cy="428.7" rx="3.6" ry="4.6" transform="rotate(16.5 789.3 428.7)" stroke="#000" stroke-width="1.8" fill="#fff" />
<ellipse cx="745.0" cy="432.0" rx="44.0" ry="62.0" transform="rotate(16.5 745.0 432.0)" stroke="#000" stroke-width="1.3" fill="none" />
<line x1="787.2" y1="444.5" x2="772.7" y2="472.5" stroke="#000" stroke-width="1.1" />
<line x1="772.7" y1="472.5" x2="750.8" y2="489.7" stroke="#000" stroke-width="1.1" />
<line x1="750.8" y1="489.7" x2="727.4" y2="491.4" stroke="#000" stroke-width="1.1" />
<line x1="727.4" y1="491.4" x2="708.7" y2="477.2" stroke="#000" stroke-width="1.1" />
<line x1="708.7" y1="477.2" x2="699.7" y2="450.9" stroke="#000" stroke-width="1.1" />
<line x1="699.7" y1="450.9" x2="702.8" y2="419.5" stroke="#000" stroke-width="1.1" />
<line x1="702.8" y1="419.5" x2="717.3" y2="391.5" stroke="#000" stroke-width="1.1" />
<line x1="717.3" y1="391.5" x2="739.2" y2="374.3" stroke="#000" stroke-width="1.1" />
<line x1="739.2" y1="374.3" x2="762.6" y2="372.6" stroke="#000" stroke-width="1.1" />
<line x1="762.6" y1="372.6" x2="781.3" y2="386.8" stroke="#000" stroke-width="1.1" />
<line x1="781.3" y1="386.8" x2="790.3" y2="413.1" stroke="#000" stroke-width="1.1" />
<line x1="790.3" y1="413.1" x2="787.2" y2="444.5" stroke="#000" stroke-width="1.1" />
<path d="M722,412 L772,452 M767,397 L732,470" stroke="#000" stroke-width="1.6" fill="none" stroke-linejoin="round" stroke-linecap="round" />
<ellipse cx="771.5" cy="397.4" rx="12.0" ry="16.5" transform="rotate(16 771.5 397.4)" stroke="#000" stroke-width="2" fill="#fff" />
<ellipse cx="772.5" cy="398.0" rx="9.0" ry="13.0" transform="rotate(16 772.5 398.0)" stroke="#000" stroke-width="1.4" fill="none" />
<ellipse cx="773.0" cy="398.5" rx="6.0" ry="9.5" transform="rotate(16 773.0 398.5)" stroke="#000" stroke-width="1.0" fill="none" />
<line x1="758.0" y1="392.0" x2="790.0" y2="406.0" stroke="#000" stroke-width="1.0" />
<line x1="772.0" y1="382.0" x2="770.0" y2="414.0" stroke="#000" stroke-width="1.0" />
<ellipse cx="734.0" cy="419.0" rx="13.0" ry="17.0" transform="rotate(28 734.0 419.0)" stroke="#000" stroke-width="3.5" fill="#fff" />
<path d="M728.6,431.3 L750.6,445.8 A8.9,13.5 33.4 0 0 765.4,423.2 L743.4,408.7 A8.9,13.5 33.4 0 0 728.6,431.3 Z" stroke="#000" stroke-width="1.8" fill="url(#xh2)" stroke-linejoin="round" stroke-linecap="round" />
<ellipse cx="758.0" cy="434.5" rx="8.8" ry="13.5" transform="rotate(26 758.0 434.5)" stroke="#000" stroke-width="2.8" fill="#fff" />
<ellipse cx="699.0" cy="440.0" rx="13.0" ry="17.0" transform="rotate(28 699.0 440.0)" stroke="#000" stroke-width="3.5" fill="#fff" />
<path d="M694.1,452.6 L715.1,465.1 A8.9,13.5 30.8 0 0 728.9,441.9 L707.9,429.4 A8.9,13.5 30.8 0 0 694.1,452.6 Z" stroke="#000" stroke-width="1.8" fill="url(#xh2)" stroke-linejoin="round" stroke-linecap="round" />
<ellipse cx="722.0" cy="453.5" rx="8.8" ry="13.5" transform="rotate(26 722.0 453.5)" stroke="#000" stroke-width="2.8" fill="#fff" />
<ellipse cx="726.0" cy="466.0" rx="14.0" ry="19.0" transform="rotate(28 726.0 466.0)" stroke="#000" stroke-width="4" fill="#fff" />
<path d="M721.2,479.8 L753.2,496.8 A10.4,14.5 28.0 0 0 766.8,471.2 L734.8,454.2 A10.4,14.5 28.0 0 0 721.2,479.8 Z" stroke="#000" stroke-width="1.8" fill="#fff" stroke-linejoin="round" stroke-linecap="round" />
<ellipse cx="760.0" cy="484.0" rx="10.8" ry="15.0" transform="rotate(26 760.0 484.0)" stroke="#000" stroke-width="2.8" fill="#fff" />
<line x1="748.0" y1="492.0" x2="757.0" y2="496.0" stroke="#000" stroke-width="1.5" />
<path d="M735,494 l4,5 l6,-2" stroke="#000" stroke-width="1.4" fill="none" stroke-linejoin="round" stroke-linecap="round" />
<ellipse cx="811.5" cy="517.0" rx="22.0" ry="29.0" transform="rotate(20 811.5 517.0)" stroke="#000" stroke-width="1.8" fill="#fff" />
<ellipse cx="818.5" cy="518.0" rx="21.5" ry="28.5" transform="rotate(20 818.5 518.0)" stroke="#000" stroke-width="1.6" fill="#fff" />
<ellipse cx="820.0" cy="519.0" rx="14.0" ry="21.0" transform="rotate(18 820.0 519.0)" stroke="#000" stroke-width="3.6" fill="none" />
<ellipse cx="822.0" cy="517.0" rx="12.0" ry="18.0" transform="rotate(18 822.0 517.0)" stroke="#000" stroke-width="1.8" fill="none" />
<path d="M822,489 l6,-2 l6,3 M838,500 l5,0 l0,10" stroke="#000" stroke-width="1.4" fill="none" stroke-linejoin="round" stroke-linecap="round" />
<path d="M797,535 C804,545 816,549 828,546" stroke="#000" stroke-width="3.2" fill="none" stroke-linejoin="round" stroke-linecap="round" />
<ellipse cx="864.0" cy="548.0" rx="21.0" ry="27.0" transform="rotate(20 864.0 548.0)" stroke="#000" stroke-width="1.6" fill="#fff" />
<ellipse cx="870.0" cy="547.0" rx="22.0" ry="28.0" transform="rotate(20 870.0 547.0)" stroke="#000" stroke-width="1.6" fill="#fff" />
<ellipse cx="874.0" cy="548.0" rx="15.0" ry="23.0" transform="rotate(18 874.0 548.0)" stroke="#000" stroke-width="1.6" fill="none" />
<ellipse cx="876.0" cy="549.0" rx="13.0" ry="20.0" transform="rotate(18 876.0 549.0)" stroke="#000" stroke-width="1.2" fill="none" />
<path d="M862,575 l10,-3" stroke="#000" stroke-width="1.5" fill="none" stroke-linejoin="round" stroke-linecap="round" />
<ellipse cx="912.0" cy="573.0" rx="15.8" ry="23.8" transform="rotate(28 912.0 573.0)" stroke="#000" stroke-width="3.2" fill="none" />
<ellipse cx="912.0" cy="573.0" rx="14.2" ry="22.2" transform="rotate(28 912.0 573.0)" stroke="#fff" stroke-width="1.0" fill="none" />
<path d="M941.2,618.5 L961.8,629.4 A18.0,27.0 27.9 0 0 987.0,581.6 L966.4,570.7 A18.0,27.0 27.9 0 0 941.2,618.5 Z" stroke="#000" stroke-width="2" fill="url(#kn2)" stroke-linejoin="round" stroke-linecap="round" />
<ellipse cx="974.4" cy="605.5" rx="18.0" ry="27.0" transform="rotate(28 974.4 605.5)" stroke="#000" stroke-width="2.2" fill="#fff" />
<ellipse cx="973.0" cy="606.5" rx="13.0" ry="19.0" transform="rotate(28 973.0 606.5)" stroke="#000" stroke-width="2.6" fill="#fff" />
<ellipse cx="965.2" cy="581.0" rx="8.0" ry="4.5" transform="rotate(20 965.2 581.0)" stroke="#000" stroke-width="1.5" fill="#fff" />
<path d="M962,612 C966,620 974,624 982,622" stroke="#000" stroke-width="1.4" fill="none" stroke-linejoin="round" stroke-linecap="round" />
<path d="M985,590 l3,8 M987,600 l2,10" stroke="#000" stroke-width="1.6" fill="none" stroke-linejoin="round" stroke-linecap="round" />
<ellipse cx="949.3" cy="404.8" rx="14.0" ry="18.5" transform="rotate(15 949.3 404.8)" stroke="#000" stroke-width="3.2" fill="none" />
<ellipse cx="949.3" cy="404.8" rx="11.5" ry="16.0" transform="rotate(15 949.3 404.8)" stroke="#000" stroke-width="1.0" fill="none" />
<path d="M966.4,437.3 L982.4,444.8 A7.6,18.0 25.1 0 0 997.6,412.2 L981.6,404.7 A7.6,18.0 25.1 0 0 966.4,437.3 Z" stroke="#000" stroke-width="1.6" fill="url(#knurl)" stroke-linejoin="round" stroke-linecap="round" />
<ellipse cx="974.0" cy="421.0" rx="6.5" ry="18.0" transform="rotate(25 974.0 421.0)" stroke="#000" stroke-width="2.5" fill="url(#knurl)" />
<ellipse cx="990.0" cy="428.5" rx="6.5" ry="17.5" transform="rotate(25 990.0 428.5)" stroke="#000" stroke-width="3" fill="#fff" />
<path d="M985.2,443.4 L1000.7,449.6 A9.6,15.5 21.8 0 0 1012.3,420.8 L996.8,414.6 A9.6,15.5 21.8 0 0 985.2,443.4 Z" stroke="#000" stroke-width="1.6" fill="url(#xh2)" stroke-linejoin="round" stroke-linecap="round" />
<ellipse cx="1006.5" cy="435.2" rx="9.6" ry="15.5" transform="rotate(21.801409486351776 1006.5 435.2)" stroke="#000" stroke-width="1.6" fill="#fff" />
<ellipse cx="1006.5" cy="435.2" rx="9.6" ry="15.5" transform="rotate(22 1006.5 435.2)" stroke="#000" stroke-width="2.4" fill="#fff" />
<ellipse cx="1008.0" cy="436.0" rx="7.5" ry="12.5" transform="rotate(22 1008.0 436.0)" stroke="#000" stroke-width="1.2" fill="none" />
<line x1="998.0" y1="428.0" x2="1016.0" y2="440.0" stroke="#000" stroke-width="1.2" stroke-dasharray="6 3"/>
<path d="M1020.2,460.6 L1028.2,464.6 A9.1,13.0 26.6 0 0 1039.8,441.4 L1031.8,437.4 A9.1,13.0 26.6 0 0 1020.2,460.6 Z" stroke="#000" stroke-width="2.2" fill="#fff" stroke-linejoin="round" stroke-linecap="round" />
<ellipse cx="1034.0" cy="453.0" rx="9.1" ry="13.0" transform="rotate(26.56505117707799 1034.0 453.0)" stroke="#000" stroke-width="2.2" fill="#fff" />
<ellipse cx="1034.0" cy="453.0" rx="6.0" ry="9.0" transform="rotate(20 1034.0 453.0)" stroke="#000" stroke-width="3.5" fill="#333" />
<ellipse cx="1034.0" cy="453.0" rx="2.0" ry="3.0" transform="rotate(20 1034.0 453.0)" stroke="#000" stroke-width="1" fill="#fff" />
<ellipse cx="1024.0" cy="448.0" rx="8.0" ry="13.0" transform="rotate(20 1024.0 448.0)" stroke="#000" stroke-width="1.5" fill="none" />
<ellipse cx="1060.9" cy="469.0" rx="10.5" ry="13.5" transform="rotate(20 1060.9 469.0)" stroke="#000" stroke-width="3.5" fill="#fff" />
<ellipse cx="1062.0" cy="469.5" rx="6.5" ry="9.0" transform="rotate(20 1062.0 469.5)" stroke="#000" stroke-width="2" fill="none" />
<path d="M1059,469 l6,1 M1062,465.5 l0,8" stroke="#000" stroke-width="1.5" fill="none" stroke-linejoin="round" stroke-linecap="round" />
<path d="M1001.3,647.4 L1025.3,659.4 A9.8,15.0 26.6 0 0 1038.7,632.6 L1014.7,620.6 A9.8,15.0 26.6 0 0 1001.3,647.4 Z" stroke="#000" stroke-width="1.6" fill="#fff" stroke-linejoin="round" stroke-linecap="round" />
<ellipse cx="1032.0" cy="646.0" rx="9.8" ry="15.0" transform="rotate(26.56505117707799 1032.0 646.0)" stroke="#000" stroke-width="1.6" fill="#fff" />
<polygon points="1053.7,650.6 1052.8,652.8 1051.7,654.8 1049.1,655.2 1047.8,656.7 1046.4,658.0 1045.6,661.2 1043.8,662.2 1042.0,663.0 1040.3,661.0 1038.7,661.1 1037.2,660.9 1034.8,662.9 1033.2,662.2 1031.8,661.1 1031.9,657.9 1031.0,656.6 1030.2,655.1 1027.7,654.7 1027.2,652.6 1026.9,650.5 1028.9,647.9 1029.1,645.9 1029.5,644.0 1028.3,641.4 1029.2,639.2 1030.3,637.2 1032.9,636.8 1034.2,635.3 1035.6,634.0 1036.4,630.8 1038.2,629.8 1040.0,629.0 1041.7,631.0 1043.3,630.9 1044.8,631.1 1047.2,629.1 1048.8,629.8 1050.2,630.9 1050.1,634.1 1051.0,635.4 1051.8,636.9 1054.3,637.3 1054.8,639.4 1055.1,641.5 1053.1,644.1 1052.9,646.1 1052.5,648.0" stroke="#000" stroke-width="1.8" fill="#fff" stroke-linejoin="round" />
<ellipse cx="1040.0" cy="646.5" rx="8.0" ry="12.0" transform="rotate(20 1040.0 646.5)" stroke="#000" stroke-width="1.8" fill="none" />
<ellipse cx="1071.0" cy="664.8" rx="12.5" ry="17.0" transform="rotate(20 1071.0 664.8)" stroke="#000" stroke-width="3" fill="none" />
<ellipse cx="1071.0" cy="664.8" rx="10.5" ry="15.0" transform="rotate(20 1071.0 664.8)" stroke="#000" stroke-width="1" fill="none" />
<ellipse cx="1109.9" cy="685.8" rx="16.0" ry="21.5" transform="rotate(22 1109.9 685.8)" stroke="#000" stroke-width="1.6" fill="#fff" />
<rect x="1093" y="673" width="4.5" height="5.5" fill="#111" transform="rotate(20 1095 676)"/>
<rect x="1087.5" y="691" width="3.5" height="5" fill="#fff" stroke="#000" stroke-width="1.3" transform="rotate(20 1089 693)"/>
<rect x="1113" y="661.8" width="4" height="2.5" fill="#111" transform="rotate(20 1115 663)"/>
<ellipse cx="1233.0" cy="714.0" rx="65.5" ry="84.5" transform="rotate(14.8 1233.0 714.0)" stroke="#000" stroke-width="1.6" fill="#fff" />
<ellipse cx="1237.5" cy="712.5" rx="61.0" ry="83.0" transform="rotate(14.8 1237.5 712.5)" stroke="#000" stroke-width="2.6" fill="#fff" />
<ellipse cx="1240.0" cy="712.0" rx="58.5" ry="80.5" transform="rotate(14.8 1240.0 712.0)" stroke="#000" stroke-width="1.0" fill="none" />
<ellipse cx="1271.2" cy="683.6" rx="10.5" ry="14.0" transform="rotate(15 1271.2 683.6)" stroke="#000" stroke-width="2" fill="none" />
<ellipse cx="1236.0" cy="703.3" rx="10.5" ry="14.0" transform="rotate(15 1236.0 703.3)" stroke="#000" stroke-width="2" fill="none" />
<ellipse cx="1201.3" cy="723.7" rx="10.5" ry="14.0" transform="rotate(15 1201.3 723.7)" stroke="#000" stroke-width="2" fill="none" />
<ellipse cx="1237.8" cy="751.3" rx="18.0" ry="23.5" transform="rotate(15 1237.8 751.3)" stroke="#000" stroke-width="2" fill="none" />
<ellipse cx="1238.5" cy="752.5" rx="15.5" ry="21.0" transform="rotate(15 1238.5 752.5)" stroke="#000" stroke-width="1.0" fill="none" />
<path d="M1215.6,749.3 C1218,735 1232,725 1246,725.5 C1250,725.8 1254,727 1256.5,728.5" stroke="#000" stroke-width="1.9" fill="none" stroke-linejoin="round" stroke-linecap="round" />
<line x1="1234.0" y1="723.5" x2="1244.0" y2="721.5" stroke="#000" stroke-width="2.8" />
<rect x="1231" y="663" width="16" height="8" rx="3" fill="#111" transform="rotate(-18 1239 667)"/>
<path d="M311.5,636 L311.5,686 M331,636 L331,686" stroke="#9a9a9a" stroke-width="1.3" fill="none" stroke-linejoin="round" stroke-linecap="round" />
<ellipse cx="321.2" cy="636.0" rx="9.8" ry="5.0" transform="rotate(0 321.2 636.0)" stroke="#9a9a9a" stroke-width="1.3" fill="#fff" />
<ellipse cx="321.2" cy="637.0" rx="7.5" ry="3.5" transform="rotate(0 321.2 637.0)" stroke="#9a9a9a" stroke-width="1.0" fill="none" />
<path d="M311.5,686 C313,690 329,690 331,686" stroke="#9a9a9a" stroke-width="1.3" fill="none" stroke-linejoin="round" stroke-linecap="round" />
<path d="M314,688 l0,4 M318,689 l0,4 M324,689 l0,4 M328,688 l0,4" stroke="#9a9a9a" stroke-width="1.1" fill="none" stroke-linejoin="round" stroke-linecap="round" />
<ellipse cx="315.0" cy="648.0" rx="2.0" ry="2.5" transform="rotate(0 315.0 648.0)" stroke="#9a9a9a" stroke-width="1" fill="none" />
<ellipse cx="315.0" cy="680.0" rx="2.0" ry="2.5" transform="rotate(0 315.0 680.0)" stroke="#9a9a9a" stroke-width="1" fill="none" />
<ellipse cx="328.0" cy="663.0" rx="1.5" ry="2.0" transform="rotate(0 328.0 663.0)" stroke="#9a9a9a" stroke-width="1" fill="none" />
<ellipse cx="328.0" cy="647.0" rx="1.0" ry="1.2" transform="rotate(0 328.0 647.0)" stroke="#9a9a9a" stroke-width="1" fill="#9a9a9a" />
<path d="M313,641 C316,644 326,644 330,641" stroke="#9a9a9a" stroke-width="1" fill="none" stroke-linejoin="round" stroke-linecap="round" />
<path d="M372.2,667.3 L399.2,679.2 A6.9,16.4 23.8 0 0 412.4,649.2 L385.4,637.3 A6.9,16.4 23.8 0 0 372.2,667.3 Z" stroke="#000" stroke-width="1.6" fill="url(#kn2)" stroke-linejoin="round" stroke-linecap="round" />
<ellipse cx="378.8" cy="652.3" rx="6.9" ry="16.4" transform="rotate(23.82330258765221 378.8 652.3)" stroke="#000" stroke-width="1.3112643006616205" fill="#111" />
<ellipse cx="378.8" cy="652.3" rx="5.2" ry="12.3" transform="rotate(23.82330258765221 378.8 652.3)" stroke="#000" stroke-width="0.9834482254962151" fill="#111" />
<ellipse cx="387.8" cy="656.3" rx="6.9" ry="16.4" transform="rotate(23.82330258765221 387.8 656.3)" stroke="#000" stroke-width="2.8683906576972946" fill="none" />
<ellipse cx="396.8" cy="660.2" rx="6.9" ry="16.4" transform="rotate(23.82330258765221 396.8 660.2)" stroke="#000" stroke-width="3.2781607516540507" fill="none" />
<path d="M399.5,678.5 L411.5,683.8 A6.5,15.6 23.8 0 0 424.1,655.3 L412.1,650.0 A6.5,15.6 23.8 0 0 399.5,678.5 Z" stroke="#000" stroke-width="1.6" fill="#111" stroke-linejoin="round" stroke-linecap="round" />
<ellipse cx="407.3" cy="664.9" rx="7.2" ry="17.2" transform="rotate(23.82330258765221 407.3 664.9)" stroke="#000" stroke-width="5.327011221437832" fill="none" />
<ellipse cx="407.3" cy="664.9" rx="7.2" ry="17.2" transform="rotate(23.82330258765221 407.3 664.9)" stroke="#fff" stroke-width="2.130804488575133" fill="none" />
<ellipse cx="414.0" cy="667.9" rx="5.2" ry="12.3" transform="rotate(23.82330258765221 414.0 667.9)" stroke="#fff" stroke-width="0.9834482254962151" fill="none" />
<path d="M414.8,676.3 L440.8,687.7 A4.6,7.4 23.8 0 0 446.8,674.3 L420.8,662.8 A4.6,7.4 23.8 0 0 414.8,676.3 Z" stroke="#000" stroke-width="1.4" fill="#111" stroke-linejoin="round" stroke-linecap="round" />
<line x1="419.5" y1="667.6" x2="443.5" y2="678.2" stroke="#fff" stroke-width="2.130804488575133" />
<ellipse cx="443.8" cy="681.0" rx="4.6" ry="7.4" transform="rotate(23.82330258765221 443.8 681.0)" stroke="#000" stroke-width="1.4" fill="#fff" />
<ellipse cx="443.8" cy="681.0" rx="1.8" ry="0.8" transform="rotate(23.82330258765221 443.8 681.0)" stroke="#000" stroke-width="1.0" fill="#000" />
<path d="M281.8,773.5 L308.8,786.4 A7.0,16.6 25.5 0 0 323.1,756.4 L296.2,743.5 A7.0,16.6 25.5 0 0 281.8,773.5 Z" stroke="#000" stroke-width="1.6" fill="url(#kn2)" stroke-linejoin="round" stroke-linecap="round" />
<ellipse cx="289.0" cy="758.5" rx="7.0" ry="16.6" transform="rotate(25.497551493337784 289.0 758.5)" stroke="#000" stroke-width="1.3289760101417363" fill="#111" />
<ellipse cx="289.0" cy="758.5" rx="5.2" ry="12.5" transform="rotate(25.497551493337784 289.0 758.5)" stroke="#000" stroke-width="0.9967320076063022" fill="#111" />
<ellipse cx="298.0" cy="762.8" rx="7.0" ry="16.6" transform="rotate(25.497551493337784 298.0 762.8)" stroke="#000" stroke-width="2.9071350221850483" fill="none" />
<ellipse cx="307.0" cy="767.1" rx="7.0" ry="16.6" transform="rotate(25.497551493337784 307.0 767.1)" stroke="#000" stroke-width="3.3224400253543407" fill="none" />
<path d="M309.2,785.6 L321.2,791.3 A6.6,15.8 25.5 0 0 334.8,762.8 L322.8,757.1 A6.6,15.8 25.5 0 0 309.2,785.6 Z" stroke="#000" stroke-width="1.6" fill="#111" stroke-linejoin="round" stroke-linecap="round" />
<ellipse cx="317.5" cy="772.1" rx="7.3" ry="17.4" transform="rotate(25.497551493337784 317.5 772.1)" stroke="#000" stroke-width="5.398965041200803" fill="none" />
<ellipse cx="317.5" cy="772.1" rx="7.3" ry="17.4" transform="rotate(25.497551493337784 317.5 772.1)" stroke="#fff" stroke-width="2.1595860164803216" fill="none" />
<ellipse cx="324.2" cy="775.3" rx="5.2" ry="12.5" transform="rotate(25.497551493337784 324.2 775.3)" stroke="#fff" stroke-width="0.9967320076063022" fill="none" />
<path d="M324.8,783.8 L350.8,796.2 A4.6,7.5 25.5 0 0 357.2,782.8 L331.2,770.3 A4.6,7.5 25.5 0 0 324.8,783.8 Z" stroke="#000" stroke-width="1.4" fill="#111" stroke-linejoin="round" stroke-linecap="round" />
<line x1="329.8" y1="775.2" x2="353.8" y2="786.6" stroke="#fff" stroke-width="2.1595860164803216" />
<ellipse cx="354.0" cy="789.5" rx="4.6" ry="7.5" transform="rotate(25.497551493337784 354.0 789.5)" stroke="#000" stroke-width="1.4" fill="#fff" />
<ellipse cx="354.0" cy="789.5" rx="1.8" ry="0.8" transform="rotate(25.497551493337784 354.0 789.5)" stroke="#000" stroke-width="1.0" fill="#000" />
<path d="M472.3,648.1 L479.3,651.9 A4.8,12.0 28.3 0 0 490.7,630.7 L483.7,626.9 A4.8,12.0 28.3 0 0 472.3,648.1 Z" stroke="#000" stroke-width="1.6" fill="#fff" stroke-linejoin="round" stroke-linecap="round" />
<ellipse cx="478.0" cy="637.5" rx="4.8" ry="12.0" transform="rotate(28.336252561603775 478.0 637.5)" stroke="#000" stroke-width="4" fill="#fff" />
<path d="M479.8,651.0 L486.9,654.8 A4.4,11.0 28.3 0 0 497.3,635.4 L490.3,631.6 A4.4,11.0 28.3 0 0 479.8,651.0 Z" stroke="#000" stroke-width="1.4" fill="#fff" stroke-linejoin="round" stroke-linecap="round" />
<path d="M482.1,663.6 L487.4,666.4 A8.4,21.0 28.3 0 0 507.3,629.5 L502.1,626.6 A8.4,21.0 28.3 0 0 482.1,663.6 Z" stroke="#000" stroke-width="1.6" fill="#fff" stroke-linejoin="round" stroke-linecap="round" />
<ellipse cx="492.1" cy="645.1" rx="8.4" ry="21.0" transform="rotate(28.336252561603775 492.1 645.1)" stroke="#000" stroke-width="1.6" fill="#fff" />
<path d="M488.8,663.8 L501.1,670.4 A7.2,18.0 28.3 0 0 518.2,638.7 L505.9,632.1 A7.2,18.0 28.3 0 0 488.8,663.8 Z" stroke="#000" stroke-width="1.5" fill="#fff" stroke-linejoin="round" stroke-linecap="round" />
<ellipse cx="497.4" cy="647.9" rx="7.2" ry="18.0" transform="rotate(28.336252561603775 497.4 647.9)" stroke="#000" stroke-width="1.4" fill="none" />
<ellipse cx="503.5" cy="651.3" rx="7.0" ry="17.5" transform="rotate(28.336252561603775 503.5 651.3)" stroke="#000" stroke-width="2.4" fill="none" />
<path d="M502.6,667.8 L510.6,669.8 A5.2,13.0 28.3 0 0 522.9,646.9 L516.8,641.4 A6.0,15.0 28.3 0 0 502.6,667.8 Z" stroke="#000" stroke-width="1.5" fill="#fff" stroke-linejoin="round" stroke-linecap="round" />
<ellipse cx="509.7" cy="654.6" rx="6.0" ry="15.0" transform="rotate(28.336252561603775 509.7 654.6)" stroke="#000" stroke-width="1.5" fill="none" />
<path d="M511.0,668.9 L518.1,672.7 A4.8,12.0 28.3 0 0 529.5,651.6 L522.4,647.8 A4.8,12.0 28.3 0 0 511.0,668.9 Z" stroke="#000" stroke-width="1.5" fill="#fff" stroke-linejoin="round" stroke-linecap="round" />
<ellipse cx="516.7" cy="658.4" rx="4.8" ry="12.0" transform="rotate(28.336252561603775 516.7 658.4)" stroke="#000" stroke-width="2.0" fill="none" />
<path d="M519.5,670.1 L523.9,672.5 A3.6,9.0 28.3 0 0 532.4,656.6 L528.0,654.3 A3.6,9.0 28.3 0 0 519.5,670.1 Z" stroke="#000" stroke-width="1.5" fill="#fff" stroke-linejoin="round" stroke-linecap="round" />
<ellipse cx="523.8" cy="662.2" rx="3.6" ry="9.0" transform="rotate(28.336252561603775 523.8 662.2)" stroke="#000" stroke-width="1.5" fill="none" />
<path d="M525.2,670.1 L561.3,689.6 A2.5,6.3 28.3 0 0 567.2,678.5 L531.2,659.0 A2.5,6.3 28.3 0 0 525.2,670.1 Z" stroke="#000" stroke-width="1.3" fill="#111" stroke-linejoin="round" stroke-linecap="round" />
<ellipse cx="528.2" cy="664.6" rx="2.5" ry="6.3" transform="rotate(28.336252561603775 528.2 664.6)" stroke="#000" stroke-width="1.5" fill="#111" />
<line x1="532.5" y1="662.9" x2="564.2" y2="680.0" stroke="#fff" stroke-width="1.3" />
<ellipse cx="564.3" cy="684.0" rx="3.5" ry="6.3" transform="rotate(28.336252561603775 564.3 684.0)" stroke="#000" stroke-width="1.4" fill="#fff" />
<ellipse cx="564.3" cy="684.0" rx="1.5" ry="2.5" transform="rotate(28.336252561603775 564.3 684.0)" stroke="#000" stroke-width="1.0" fill="none" />
<path d="M378.6,739.4 A5,5 0 0 1 388.6,739.4 L388.6,766.4 L378.6,766.4 Z" stroke="#000" stroke-width="1.6" fill="#fff" stroke-linejoin="round" stroke-linecap="round" />
<line x1="383.6" y1="737.4" x2="383.6" y2="766.4" stroke="#000" stroke-width="1.3" />
<line x1="381.1" y1="739.4" x2="386.1" y2="739.4" stroke="#000" stroke-width="1.2" />
<line x1="381.1" y1="744.1" x2="386.1" y2="744.1" stroke="#000" stroke-width="1.2" />
<line x1="381.1" y1="748.8" x2="386.1" y2="748.8" stroke="#000" stroke-width="1.2" />
<line x1="381.1" y1="753.5" x2="386.1" y2="753.5" stroke="#000" stroke-width="1.2" />
<line x1="381.1" y1="758.2" x2="386.1" y2="758.2" stroke="#000" stroke-width="1.2" />
<line x1="381.1" y1="762.9" x2="386.1" y2="762.9" stroke="#000" stroke-width="1.2" />
<ellipse cx="383.6" cy="772.9" rx="8.1" ry="8.3" transform="rotate(0 383.6 772.9)" stroke="#000" stroke-width="1" fill="#000" />
<path d="M466.1,739.4 A5,5 0 0 1 476.1,739.4 L476.1,766.4 L466.1,766.4 Z" stroke="#000" stroke-width="1.6" fill="#fff" stroke-linejoin="round" stroke-linecap="round" />
<rect x="466.90000000000003" y="743.4" width="8.4" height="26" fill="#000"/>
<line x1="471.1" y1="737.4" x2="471.1" y2="743.4" stroke="#000" stroke-width="1.3" />
<line x1="469.1" y1="739.9" x2="473.1" y2="739.9" stroke="#000" stroke-width="1.3" />
<ellipse cx="471.1" cy="772.9" rx="8.1" ry="8.3" transform="rotate(0 471.1 772.9)" stroke="#000" stroke-width="1" fill="#000" />
<path d="M403.5,745.5 A28.5,28.5 0 0 1 456.2,760.2" stroke="#000" stroke-width="8" fill="none" stroke-linejoin="round" stroke-linecap="butt" />
<polygon points="444.5,759.5 465.5,758.5 453.0,771.5" stroke="#000" stroke-width="0.5" fill="#000" stroke-linejoin="round" />
<path d="M452,775 A28.5,28.5 0 0 1 399.2,760.2" stroke="#000" stroke-width="8" fill="none" stroke-linejoin="round" stroke-linecap="butt" />
<polygon points="389.5,761.0 410.5,762.0 402.4,748.5" stroke="#000" stroke-width="0.5" fill="#000" stroke-linejoin="round" />
<polygon points="511.4,751.0 531.1,738.7 541.6,738.7 555.1,747.0 555.1,754.9 531.1,763.7 511.9,756.2" stroke="#000" stroke-width="1.6" fill="#fff" stroke-linejoin="round" />
<path d="M511.4,751 L511.4,768.5 L516.2,768.5 L516.2,761 L527,765 L527,777 L534.6,777 L534.6,764 L551,757 L551,777 L555.6,777 L555.6,754.9" stroke="#000" stroke-width="1.6" fill="none" stroke-linejoin="round" stroke-linecap="round" />
<line x1="531.1" y1="763.7" x2="531.1" y2="777.0" stroke="#000" stroke-width="1.4" />
<ellipse cx="532.8" cy="751.0" rx="12.5" ry="7.0" transform="rotate(-3 532.8 751.0)" stroke="#000" stroke-width="1.8" fill="none" />
<ellipse cx="533.0" cy="751.0" rx="7.5" ry="4.5" transform="rotate(0 533.0 751.0)" stroke="#000" stroke-width="1.6" fill="none" />
<ellipse cx="533.0" cy="751.0" rx="3.5" ry="2.2" transform="rotate(0 533.0 751.0)" stroke="#000" stroke-width="1.2" fill="none" />
<path d="M522.5,778 L522.5,800 C526,806 542,806 545,800 L545,778" stroke="#000" stroke-width="1.6" fill="#fff" stroke-linejoin="round" stroke-linecap="round" />
<ellipse cx="533.8" cy="784.0" rx="11.5" ry="3.5" transform="rotate(0 533.8 784.0)" stroke="#000" stroke-width="1.6" fill="none" />
<ellipse cx="533.8" cy="788.0" rx="11.5" ry="3.5" transform="rotate(0 533.8 788.0)" stroke="#000" stroke-width="2.2" fill="none" />
<ellipse cx="533.8" cy="791.0" rx="11.5" ry="3.5" transform="rotate(0 533.8 791.0)" stroke="#000" stroke-width="2.8" fill="none" />
<ellipse cx="533.8" cy="795.0" rx="10.0" ry="3.0" transform="rotate(0 533.8 795.0)" stroke="#000" stroke-width="1.3" fill="none" />
<ellipse cx="610.0" cy="738.0" rx="26.5" ry="26.5" transform="rotate(0 610.0 738.0)" stroke="#000" stroke-width="1.2" fill="#fff" />
<ellipse cx="610.0" cy="738.0" rx="24.5" ry="24.5" transform="rotate(0 610.0 738.0)" stroke="#888" stroke-width="3" fill="none" />
<ellipse cx="610.0" cy="738.0" rx="22.5" ry="22.5" transform="rotate(0 610.0 738.0)" stroke="#000" stroke-width="1.2" fill="none" />
<clipPath id="fc610"><circle cx="610" cy="738" r="22"/></clipPath>
<g clip-path="url(#fc610)">
<path d="M585,728 L611,741 M588,721 L612,733 C618,736 620,743 616,745 L611,742" stroke="#000" stroke-width="1.5" fill="none" stroke-linejoin="round" stroke-linecap="round" />
<polygon points="610.5,742.0 615.0,742.5 617.0,760.0 607.0,760.0" stroke="#000" stroke-width="1" fill="#000" stroke-linejoin="round" />
</g>
<line x1="592.0" y1="748.5" x2="628.0" y2="727.5" stroke="#888" stroke-width="3.2" />
<line x1="592.0" y1="746.5" x2="628.0" y2="725.5" stroke="#000" stroke-width="1" />
<line x1="592.0" y1="750.5" x2="628.0" y2="729.5" stroke="#000" stroke-width="1" />
<ellipse cx="671.5" cy="777.7" rx="26.5" ry="26.5" transform="rotate(0 671.5 777.7)" stroke="#000" stroke-width="1.2" fill="#fff" />
<ellipse cx="671.5" cy="777.7" rx="24.5" ry="24.5" transform="rotate(0 671.5 777.7)" stroke="#888" stroke-width="3" fill="none" />
<ellipse cx="671.5" cy="777.7" rx="22.5" ry="22.5" transform="rotate(0 671.5 777.7)" stroke="#000" stroke-width="1.2" fill="none" />
<clipPath id="fc671"><circle cx="671.5" cy="777.7" r="22"/></clipPath>
<g clip-path="url(#fc671)">
<path d="M646.5,767.7 L672.5,780.7 M649.5,760.7 L673.5,772.7 C679.5,775.7 681.5,782.7 677.5,784.7 L672.5,781.7" stroke="#000" stroke-width="1.5" fill="none" stroke-linejoin="round" stroke-linecap="round" />
<polygon points="672.0,781.7 676.5,782.2 678.5,799.7 668.5,799.7" stroke="#000" stroke-width="1" fill="#000" stroke-linejoin="round" />
</g>
<path d="M739.7,748.4 L781.7,770.4 A2.8,5.0 27.6 0 0 786.3,761.6 L744.3,739.6 A2.8,5.0 27.6 0 0 739.7,748.4 Z" stroke="#000" stroke-width="1.5" fill="#444" stroke-linejoin="round" stroke-linecap="round" />
<ellipse cx="784.0" cy="766.0" rx="2.8" ry="5.0" transform="rotate(27.64597536373868 784.0 766.0)" stroke="#000" stroke-width="1.5" fill="#fff" />
<ellipse cx="742.0" cy="744.0" rx="3.0" ry="5.5" transform="rotate(28 742.0 744.0)" stroke="#000" stroke-width="1.6" fill="#fff" />
<path d="M710.1,789.1 L736.1,801.6 A5.4,9.0 25.7 0 0 743.9,785.4 L717.9,772.9 A5.4,9.0 25.7 0 0 710.1,789.1 Z" stroke="#000" stroke-width="1.5" fill="#fff" stroke-linejoin="round" stroke-linecap="round" />
<ellipse cx="740.0" cy="793.5" rx="5.4" ry="9.0" transform="rotate(25.67681568183822 740.0 793.5)" stroke="#000" stroke-width="1.5" fill="#fff" />
<line x1="713.0" y1="776.0" x2="738.0" y2="788.0" stroke="#000" stroke-width="2.8" />
<path d="M743.7,780.6 L770.7,795.6 A6.6,11.0 29.1 0 0 781.3,776.4 L754.3,761.4 A6.6,11.0 29.1 0 0 743.7,780.6 Z" stroke="#000" stroke-width="1.5" fill="#fff" stroke-linejoin="round" stroke-linecap="round" />
<ellipse cx="776.0" cy="786.0" rx="6.6" ry="11.0" transform="rotate(29.054604099077146 776.0 786.0)" stroke="#000" stroke-width="1.5" fill="#fff" />
<polygon points="786.0,787.0 785.9,788.5 785.7,790.0 784.0,790.7 783.5,791.8 783.0,792.9 783.4,795.1 782.5,796.1 781.5,797.0 779.9,795.9 779.0,796.3 778.0,796.6 777.0,798.5 775.8,798.4 774.7,798.1 774.1,795.9 773.2,795.4 772.4,794.7 770.6,795.1 769.9,794.0 769.2,792.8 770.0,790.7 769.7,789.5 769.5,788.3 768.0,787.0 768.1,785.5 768.3,784.0 770.0,783.3 770.5,782.2 771.0,781.1 770.6,778.9 771.5,777.9 772.5,777.0 774.1,778.1 775.0,777.7 776.0,777.4 777.0,775.5 778.2,775.6 779.3,775.9 779.9,778.1 780.8,778.6 781.6,779.3 783.4,778.9 784.1,780.0 784.8,781.2 784.0,783.3 784.3,784.5 784.5,785.7" stroke="#000" stroke-width="1.6" fill="#fff" stroke-linejoin="round" />
<ellipse cx="777.0" cy="787.0" rx="5.5" ry="7.5" transform="rotate(0 777.0 787.0)" stroke="#000" stroke-width="1.3" fill="none" />
<path d="M804.9,716.5 L834,715 L834,804.5 L804.9,803 Z" stroke="#000" stroke-width="1.6" fill="#fff" stroke-linejoin="round" stroke-linecap="round" />
<line x1="810.2" y1="716.0" x2="810.2" y2="804.0" stroke="#000" stroke-width="1.2" />
<line x1="819.5" y1="716.0" x2="819.5" y2="804.0" stroke="#000" stroke-width="1.2" />
<line x1="829.5" y1="716.0" x2="829.5" y2="804.0" stroke="#000" stroke-width="1.2" />
<line x1="833.5" y1="715.0" x2="833.5" y2="804.5" stroke="#000" stroke-width="2.5" />
<ellipse cx="818.9" cy="759.3" rx="6.5" ry="7.0" transform="rotate(0 818.9 759.3)" stroke="#000" stroke-width="3.8" fill="#fff" />
<ellipse cx="818.9" cy="759.3" rx="2.5" ry="3.0" transform="rotate(0 818.9 759.3)" stroke="#000" stroke-width="1.2" fill="none" />
<ellipse cx="818.9" cy="793.8" rx="6.5" ry="6.0" transform="rotate(0 818.9 793.8)" stroke="#000" stroke-width="3.8" fill="#fff" />
<ellipse cx="818.9" cy="794.0" rx="2.5" ry="2.0" transform="rotate(0 818.9 794.0)" stroke="#000" stroke-width="1.2" fill="none" />
<rect x="806" y="728" width="3" height="3" fill="none" stroke="#000" stroke-width="1"/>
<path d="M834,727 L840,727 L840,760 L846,760 L846,804 L834,804" stroke="#000" stroke-width="1.4" fill="none" stroke-linejoin="round" stroke-linecap="round" />
<path d="M840,731 L847,731 L847,758 L840,758" stroke="#000" stroke-width="1.4" fill="none" stroke-linejoin="round" stroke-linecap="round" />
<path d="M847,736 L857,736 L857,755 L847,755 Z" stroke="#000" stroke-width="1.4" fill="#fff" stroke-linejoin="round" stroke-linecap="round" />
<path d="M857,737 L866,737 L866,754 L857,754 Z" stroke="#000" stroke-width="1.4" fill="#fff" stroke-linejoin="round" stroke-linecap="round" />
<line x1="866.0" y1="743.5" x2="883.0" y2="743.5" stroke="#000" stroke-width="2.6" />
<line x1="866.0" y1="749.0" x2="883.0" y2="749.0" stroke="#000" stroke-width="2.6" />
<line x1="883.0" y1="743.5" x2="899.5" y2="743.5" stroke="#999" stroke-width="2" />
<line x1="883.0" y1="749.0" x2="899.5" y2="749.0" stroke="#999" stroke-width="2" />
<path d="M841,769 L852,769 L852,804 L841,804 Z" stroke="#000" stroke-width="1.4" fill="#fff" stroke-linejoin="round" stroke-linecap="round" />
<path d="M852,776 L877,776 L877,792 L852,792 Z" stroke="#000" stroke-width="1.4" fill="#111" stroke-linejoin="round" stroke-linecap="round" />
<line x1="853.0" y1="784.0" x2="876.0" y2="784.0" stroke="#fff" stroke-width="1.3" />
<line x1="847.0" y1="728.1" x2="880.0" y2="728.1" stroke="#888" stroke-width="1.2" />
<polygon points="875.0,725.8 882.6,728.1 875.0,730.4" stroke="#888" stroke-width="1" fill="#888" stroke-linejoin="round" />
<line x1="882.6" y1="722.0" x2="882.6" y2="750.0" stroke="#888" stroke-width="1.2" />
<line x1="899.5" y1="722.0" x2="899.5" y2="750.0" stroke="#888" stroke-width="1.2" />
<line x1="901.0" y1="728.1" x2="919.0" y2="728.1" stroke="#888" stroke-width="1.2" />
<polygon points="907.0,725.8 899.5,728.1 907.0,730.4" stroke="#888" stroke-width="1" fill="#888" stroke-linejoin="round" />
<text x="382.00" y="128.90" font-size="27.5">8</text>
<text x="860.00" y="252.80" font-size="27.5">5</text>
<text x="340.80" y="408.00" font-size="27.5">7</text>
<text x="496.60" y="405.60" font-size="27.5">6</text>
<text x="1083.40" y="384.20" font-size="27.5">4</text>
<text x="1082.40" y="559.20" font-size="27.5">2</text>
<text x="1111.00" y="794.05" font-size="27.5">3</text>
<text x="312.40" y="618.00" font-size="27.5">9</text>
<text x="320.90" y="730.50" font-size="27.5">0</text>
<text x="748.30" y="730.30" font-size="27.5">2</text>
<text x="715.60" y="206.10" font-size="19.5">5.</text>
<text x="1085.20" y="446.80" font-size="19.5">4.</text>
<text x="1056.30" y="606.40" font-size="19.5">2.2</text>
<text x="1146.20" y="658.30" font-size="19.5">2.</text>
<text x="380.90" y="627.30" font-size="19.5" textLength="52.25" lengthAdjust="spacingAndGlyphs">36mm</text>
<text x="518.00" y="626.80" font-size="19.5" textLength="52.75" lengthAdjust="spacingAndGlyphs">34mm</text>
<text x="840.85" y="726.80" font-size="19.5" textLength="30.37" lengthAdjust="spacingAndGlyphs">+25</text>
<polygon points="813.30,612.00 815.90,612.00 815.90,632.00 813.10,632.00 813.10,618.40 809.00,618.40 809.00,616.00 810.85,616.00 812.70,614.34" fill="#000" stroke="none"/>
<polygon points="312.30,710.90 314.60,710.90 314.60,730.90 312.10,730.90 312.10,717.30 307.90,717.30 307.90,714.90 309.79,714.90 311.70,713.24" fill="#000" stroke="none"/>
<polygon points="526.50,712.00 528.40,712.00 528.40,731.90 526.30,731.90 526.30,718.37 521.40,718.37 521.40,715.97 523.61,715.97 525.90,714.33" fill="#000" stroke="none"/>
<polygon points="542.20,712.00 544.00,712.00 544.00,731.90 542.00,731.90 542.00,718.37 537.10,718.37 537.10,715.97 539.31,715.97 541.60,714.33" fill="#000" stroke="none"/>
<polygon points="740.30,711.06 742.10,711.06 742.10,731.40 740.10,731.40 740.10,717.55 735.00,717.55 735.00,715.15 737.29,715.15 739.70,713.44" fill="#000" stroke="none"/>
<polygon points="736.70,192.00 738.00,192.00 738.00,205.80 736.50,205.80 736.50,196.44 733.00,196.44 733.00,194.74 734.58,194.74 736.10,193.61" fill="#000" stroke="none"/>
<polygon points="1106.10,433.50 1107.20,433.50 1107.20,446.70 1105.90,446.70 1105.90,437.78 1102.50,437.78 1102.50,436.08 1104.03,436.08 1105.50,435.04" fill="#000" stroke="none"/>
<polygon points="1167.30,644.50 1168.80,644.50 1168.80,657.80 1167.10,657.80 1167.10,648.81 1164.00,648.81 1164.00,647.11 1165.39,647.11 1166.70,646.06" fill="#000" stroke="none"/>
</svg></body></html>
